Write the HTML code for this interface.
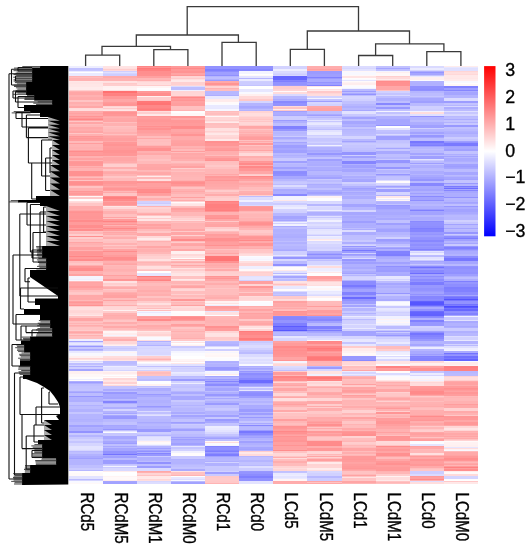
<!DOCTYPE html>
<html><head><meta charset="utf-8"><title>heatmap</title>
<style>
html,body{margin:0;padding:0;background:#fff;width:530px;height:550px;overflow:hidden}
svg{display:block}
.t{font-family:"Liberation Sans",Arial,sans-serif;font-size:17.6px;fill:#000;stroke:#000;stroke-width:0.35px}
.c{font-size:17.8px}
</style></head><body>
<svg width="530" height="550" viewBox="0 0 530 550"><g shape-rendering="crispEdges"><path fill="#eeeeff" d="M68.50 66h34.17v2h-34.17zM273.25 274h34.17v1h-34.17zM307.38 236h34.17v1h-34.17zM375.62 301h34.17v1h-34.17zM375.62 352h34.17v1h-34.17zM443.88 348h34.17v2h-34.17z"/><path fill="#c2c2ff" d="M68.50 68h34.17v2h-34.17zM68.50 402h34.17v3h-34.17zM102.62 386h34.17v3h-34.17zM102.62 404h34.17v3h-34.17zM102.62 422h34.17v3h-34.17zM102.62 464h34.17v1h-34.17zM170.88 386h34.17v2h-34.17zM170.88 414h34.17v1h-34.17zM170.88 419h34.17v3h-34.17zM170.88 431h34.17v3h-34.17zM239.12 388h34.17v2h-34.17zM239.12 462h34.17v3h-34.17zM341.50 304h34.17v1h-34.17zM375.62 112h34.17v2h-34.17zM375.62 130h34.17v2h-34.17zM375.62 141h34.17v2h-34.17zM375.62 147h34.17v1h-34.17zM375.62 177h34.17v3h-34.17zM409.75 164h34.17v1h-34.17z"/><path fill="#c5c5ff" d="M68.50 70h34.17v1h-34.17zM68.50 389h34.17v2h-34.17zM136.75 343h34.17v2h-34.17zM170.88 425h34.17v3h-34.17zM170.88 447h34.17v2h-34.17zM205.00 434h34.17v2h-34.17zM307.38 143h34.17v2h-34.17zM307.38 182h34.17v1h-34.17zM341.50 145h34.17v3h-34.17zM341.50 342h34.17v2h-34.17zM375.62 330h34.17v1h-34.17zM443.88 222h34.17v2h-34.17z"/><path fill="#eaeaff" d="M68.50 71h34.17v1h-34.17zM68.50 73h34.17v3h-34.17zM136.75 369h34.17v1h-34.17zM239.12 79h34.17v2h-34.17zM273.25 478h34.17v1h-34.17zM375.62 199h34.17v1h-34.17zM375.62 342h34.17v2h-34.17z"/><path fill="#fefeff" d="M68.50 72h34.17v1h-34.17zM102.62 375h34.17v1h-34.17zM102.62 475h34.17v1h-34.17zM136.75 88h34.17v1h-34.17zM136.75 381h34.17v3h-34.17zM170.88 362h34.17v1h-34.17zM239.12 301h34.17v1h-34.17zM375.62 126h34.17v2h-34.17zM375.62 355h34.17v1h-34.17z"/><path fill="#ffb1b1" d="M68.50 76h34.17v1h-34.17zM68.50 78h34.17v3h-34.17zM68.50 95h34.17v2h-34.17zM68.50 147h34.17v2h-34.17zM68.50 166h34.17v1h-34.17zM68.50 243h34.17v2h-34.17zM68.50 273h34.17v1h-34.17zM102.62 123h34.17v3h-34.17zM102.62 156h34.17v1h-34.17zM102.62 243h34.17v2h-34.17zM136.75 241h34.17v1h-34.17zM136.75 359h34.17v1h-34.17zM170.88 189h34.17v2h-34.17zM239.12 146h34.17v2h-34.17zM239.12 247h34.17v1h-34.17zM375.62 429h34.17v3h-34.17zM443.88 401h34.17v3h-34.17z"/><path fill="#ffbcbc" d="M68.50 77h34.17v1h-34.17zM68.50 177h34.17v1h-34.17zM68.50 239h34.17v1h-34.17zM68.50 281h34.17v1h-34.17zM102.62 163h34.17v1h-34.17zM102.62 324h34.17v2h-34.17zM102.62 328h34.17v2h-34.17zM136.75 136h34.17v2h-34.17zM136.75 283h34.17v3h-34.17zM136.75 308h34.17v1h-34.17zM136.75 323h34.17v2h-34.17zM136.75 372h34.17v2h-34.17zM170.88 241h34.17v1h-34.17zM170.88 303h34.17v1h-34.17zM170.88 329h34.17v2h-34.17zM170.88 332h34.17v2h-34.17zM205.00 111h34.17v1h-34.17zM205.00 155h34.17v1h-34.17zM205.00 193h34.17v1h-34.17zM205.00 254h34.17v1h-34.17zM205.00 289h34.17v1h-34.17zM239.12 187h34.17v3h-34.17zM307.38 461h34.17v1h-34.17zM341.50 425h34.17v3h-34.17zM375.62 346h34.17v3h-34.17zM375.62 400h34.17v1h-34.17zM375.62 457h34.17v2h-34.17zM409.75 397h34.17v1h-34.17z"/><path fill="#ffe7e7" d="M68.50 81h34.17v1h-34.17zM68.50 315h34.17v1h-34.17zM136.75 331h34.17v1h-34.17zM170.88 275h34.17v1h-34.17zM170.88 363h34.17v1h-34.17zM307.38 86h34.17v1h-34.17zM307.38 239h34.17v1h-34.17zM375.62 380h34.17v1h-34.17z"/><path fill="#ffe3e3" d="M68.50 82h34.17v2h-34.17zM102.62 66h34.17v2h-34.17zM170.88 256h34.17v2h-34.17zM170.88 471h34.17v1h-34.17zM205.00 303h34.17v1h-34.17zM205.00 333h34.17v3h-34.17zM307.38 89h34.17v1h-34.17zM307.38 282h34.17v3h-34.17zM307.38 371h34.17v3h-34.17zM341.50 365h34.17v1h-34.17zM409.75 365h34.17v1h-34.17z"/><path fill="#ffe6e6" d="M68.50 84h34.17v3h-34.17zM102.62 110h34.17v1h-34.17zM102.62 206h34.17v1h-34.17zM102.62 344h34.17v1h-34.17zM136.75 219h34.17v2h-34.17zM136.75 309h34.17v1h-34.17zM443.88 78h34.17v1h-34.17z"/><path fill="#ffebeb" d="M68.50 87h34.17v3h-34.17zM136.75 176h34.17v1h-34.17zM170.88 203h34.17v1h-34.17zM205.00 99h34.17v3h-34.17zM341.50 348h34.17v3h-34.17zM375.62 79h34.17v1h-34.17zM443.88 79h34.17v2h-34.17z"/><path fill="#ffd0d0" d="M68.50 90h34.17v1h-34.17zM102.62 330h34.17v1h-34.17zM136.75 307h34.17v1h-34.17zM170.88 82h34.17v3h-34.17zM170.88 201h34.17v1h-34.17zM239.12 175h34.17v1h-34.17zM341.50 361h34.17v1h-34.17zM443.88 380h34.17v1h-34.17z"/><path fill="#ffb0b0" d="M68.50 91h34.17v1h-34.17zM68.50 134h34.17v2h-34.17zM68.50 188h34.17v3h-34.17zM68.50 265h34.17v1h-34.17zM68.50 271h34.17v2h-34.17zM68.50 335h34.17v1h-34.17zM102.62 132h34.17v2h-34.17zM102.62 211h34.17v3h-34.17zM102.62 261h34.17v2h-34.17zM102.62 269h34.17v2h-34.17zM102.62 276h34.17v3h-34.17zM136.75 151h34.17v2h-34.17zM136.75 472h34.17v1h-34.17zM170.88 180h34.17v1h-34.17zM170.88 331h34.17v1h-34.17zM205.00 232h34.17v2h-34.17zM239.12 185h34.17v2h-34.17zM239.12 191h34.17v2h-34.17zM239.12 235h34.17v1h-34.17zM273.25 405h34.17v1h-34.17zM307.38 365h34.17v1h-34.17zM375.62 416h34.17v1h-34.17zM409.75 404h34.17v2h-34.17zM409.75 480h34.17v1h-34.17zM443.88 431h34.17v1h-34.17z"/><path fill="#ffa6a6" d="M68.50 92h34.17v3h-34.17zM68.50 122h34.17v2h-34.17zM68.50 131h34.17v1h-34.17zM68.50 283h34.17v3h-34.17zM68.50 332h34.17v1h-34.17zM102.62 99h34.17v3h-34.17zM102.62 158h34.17v3h-34.17zM102.62 293h34.17v2h-34.17zM136.75 214h34.17v1h-34.17zM136.75 246h34.17v2h-34.17zM170.88 129h34.17v3h-34.17zM170.88 265h34.17v1h-34.17zM205.00 219h34.17v2h-34.17zM205.00 253h34.17v1h-34.17zM239.12 126h34.17v2h-34.17zM239.12 316h34.17v3h-34.17zM239.12 323h34.17v2h-34.17zM307.38 106h34.17v2h-34.17zM307.38 393h34.17v2h-34.17zM307.38 433h34.17v1h-34.17zM341.50 387h34.17v2h-34.17zM341.50 450h34.17v1h-34.17zM375.62 389h34.17v3h-34.17zM375.62 407h34.17v1h-34.17zM375.62 456h34.17v1h-34.17zM375.62 459h34.17v2h-34.17zM409.75 395h34.17v1h-34.17zM409.75 424h34.17v1h-34.17zM409.75 457h34.17v2h-34.17zM443.88 425h34.17v1h-34.17z"/><path fill="#ffaaaa" d="M68.50 97h34.17v3h-34.17zM68.50 111h34.17v2h-34.17zM68.50 288h34.17v2h-34.17zM102.62 76h34.17v2h-34.17zM136.75 325h34.17v2h-34.17zM170.88 262h34.17v1h-34.17zM170.88 326h34.17v1h-34.17zM205.00 265h34.17v1h-34.17zM205.00 269h34.17v2h-34.17zM239.12 141h34.17v1h-34.17zM239.12 226h34.17v2h-34.17zM239.12 241h34.17v2h-34.17zM273.25 402h34.17v2h-34.17zM273.25 481h34.17v1h-34.17zM307.38 392h34.17v1h-34.17zM307.38 406h34.17v1h-34.17zM307.38 428h34.17v1h-34.17zM341.50 377h34.17v2h-34.17zM409.75 466h34.17v2h-34.17zM443.88 381h34.17v1h-34.17zM443.88 411h34.17v2h-34.17z"/><path fill="#ffc4c4" d="M68.50 100h34.17v2h-34.17zM68.50 180h34.17v1h-34.17zM68.50 294h34.17v1h-34.17zM68.50 327h34.17v3h-34.17zM102.62 193h34.17v3h-34.17zM102.62 218h34.17v1h-34.17zM136.75 212h34.17v1h-34.17zM136.75 215h34.17v1h-34.17zM136.75 261h34.17v1h-34.17zM170.88 263h34.17v2h-34.17zM239.12 119h34.17v1h-34.17zM239.12 145h34.17v1h-34.17zM239.12 190h34.17v1h-34.17zM273.25 415h34.17v1h-34.17zM307.38 427h34.17v1h-34.17zM341.50 415h34.17v2h-34.17zM341.50 478h34.17v2h-34.17z"/><path fill="#ffaeae" d="M68.50 102h34.17v2h-34.17zM68.50 176h34.17v1h-34.17zM102.62 135h34.17v1h-34.17zM102.62 171h34.17v1h-34.17zM102.62 237h34.17v2h-34.17zM102.62 305h34.17v1h-34.17zM136.75 80h34.17v1h-34.17zM136.75 294h34.17v2h-34.17zM170.88 186h34.17v1h-34.17zM170.88 285h34.17v1h-34.17zM170.88 338h34.17v1h-34.17zM205.00 151h34.17v2h-34.17zM205.00 297h34.17v2h-34.17zM239.12 156h34.17v2h-34.17zM239.12 246h34.17v1h-34.17zM273.25 457h34.17v1h-34.17zM307.38 408h34.17v2h-34.17zM341.50 452h34.17v2h-34.17zM375.62 382h34.17v1h-34.17zM409.75 412h34.17v3h-34.17zM409.75 421h34.17v2h-34.17zM409.75 425h34.17v1h-34.17zM443.88 435h34.17v1h-34.17z"/><path fill="#ffb4b4" d="M68.50 104h34.17v2h-34.17zM68.50 144h34.17v3h-34.17zM68.50 149h34.17v1h-34.17zM68.50 333h34.17v1h-34.17zM136.75 262h34.17v1h-34.17zM136.75 286h34.17v4h-34.17zM170.88 163h34.17v1h-34.17zM170.88 226h34.17v3h-34.17zM205.00 252h34.17v1h-34.17zM205.00 318h34.17v2h-34.17zM205.00 483h34.17v1h-34.17zM239.12 311h34.17v2h-34.17zM273.25 396h34.17v1h-34.17zM341.50 400h34.17v2h-34.17zM341.50 419h34.17v1h-34.17zM443.88 432h34.17v1h-34.17z"/><path fill="#ffa7a7" d="M68.50 106h34.17v2h-34.17zM68.50 167h34.17v1h-34.17zM68.50 210h34.17v1h-34.17zM102.62 116h34.17v1h-34.17zM102.62 118h34.17v2h-34.17zM102.62 157h34.17v1h-34.17zM102.62 186h34.17v1h-34.17zM102.62 232h34.17v1h-34.17zM136.75 134h34.17v2h-34.17zM136.75 164h34.17v3h-34.17zM136.75 471h34.17v1h-34.17zM170.88 210h34.17v2h-34.17zM170.88 229h34.17v2h-34.17zM170.88 232h34.17v3h-34.17zM170.88 249h34.17v2h-34.17zM205.00 174h34.17v1h-34.17zM205.00 222h34.17v1h-34.17zM205.00 246h34.17v2h-34.17zM205.00 279h34.17v2h-34.17zM205.00 309h34.17v1h-34.17zM239.12 171h34.17v3h-34.17zM239.12 183h34.17v2h-34.17zM375.62 87h34.17v3h-34.17zM375.62 398h34.17v2h-34.17zM375.62 426h34.17v3h-34.17zM409.75 432h34.17v1h-34.17zM409.75 435h34.17v2h-34.17zM443.88 420h34.17v2h-34.17z"/><path fill="#ffdada" d="M68.50 108h34.17v1h-34.17zM136.75 332h34.17v2h-34.17zM239.12 153h34.17v3h-34.17zM239.12 300h34.17v1h-34.17zM239.12 454h34.17v2h-34.17zM375.62 77h34.17v2h-34.17zM375.62 441h34.17v2h-34.17zM443.88 474h34.17v2h-34.17z"/><path fill="#ffdede" d="M68.50 109h34.17v2h-34.17zM68.50 201h34.17v1h-34.17zM136.75 111h34.17v1h-34.17zM136.75 340h34.17v1h-34.17zM170.88 220h34.17v1h-34.17zM239.12 113h34.17v3h-34.17zM273.25 299h34.17v1h-34.17zM307.38 285h34.17v1h-34.17zM409.75 482h34.17v2h-34.17zM443.88 72h34.17v2h-34.17zM443.88 377h34.17v3h-34.17z"/><path fill="#ffa2a2" d="M68.50 113h34.17v1h-34.17zM68.50 178h34.17v2h-34.17zM68.50 247h34.17v3h-34.17zM68.50 274h34.17v2h-34.17zM68.50 303h34.17v2h-34.17zM136.75 195h34.17v1h-34.17zM170.88 141h34.17v2h-34.17zM239.12 179h34.17v2h-34.17zM273.25 446h34.17v3h-34.17zM307.38 352h34.17v1h-34.17zM307.38 423h34.17v1h-34.17zM341.50 475h34.17v1h-34.17zM409.75 415h34.17v1h-34.17zM443.88 382h34.17v3h-34.17zM443.88 391h34.17v1h-34.17z"/><path fill="#ffa9a9" d="M68.50 114h34.17v2h-34.17zM68.50 127h34.17v2h-34.17zM68.50 297h34.17v1h-34.17zM68.50 299h34.17v1h-34.17zM102.62 141h34.17v1h-34.17zM102.62 172h34.17v2h-34.17zM102.62 192h34.17v1h-34.17zM102.62 263h34.17v1h-34.17zM102.62 326h34.17v2h-34.17zM136.75 172h34.17v1h-34.17zM136.75 233h34.17v3h-34.17zM170.88 96h34.17v1h-34.17zM170.88 136h34.17v1h-34.17zM170.88 243h34.17v1h-34.17zM205.00 186h34.17v1h-34.17zM205.00 223h34.17v1h-34.17zM273.25 304h34.17v3h-34.17zM273.25 308h34.17v1h-34.17zM273.25 410h34.17v2h-34.17zM307.38 70h34.17v1h-34.17zM307.38 387h34.17v1h-34.17zM307.38 401h34.17v3h-34.17zM307.38 417h34.17v2h-34.17zM341.50 389h34.17v1h-34.17zM341.50 396h34.17v2h-34.17zM341.50 470h34.17v1h-34.17zM409.75 438h34.17v1h-34.17zM443.88 405h34.17v3h-34.17zM443.88 438h34.17v1h-34.17zM443.88 452h34.17v3h-34.17z"/><path fill="#ff9494" d="M68.50 116h34.17v1h-34.17zM102.62 104h34.17v1h-34.17zM102.62 144h34.17v2h-34.17zM170.88 100h34.17v1h-34.17zM170.88 134h34.17v2h-34.17zM205.00 83h34.17v2h-34.17zM205.00 211h34.17v1h-34.17zM273.25 360h34.17v1h-34.17zM273.25 427h34.17v1h-34.17zM273.25 445h34.17v1h-34.17zM375.62 436h34.17v1h-34.17zM409.75 389h34.17v2h-34.17zM443.88 389h34.17v1h-34.17z"/><path fill="#ffa1a1" d="M68.50 117h34.17v1h-34.17zM68.50 192h34.17v1h-34.17zM68.50 301h34.17v1h-34.17zM102.62 111h34.17v1h-34.17zM102.62 205h34.17v1h-34.17zM102.62 275h34.17v1h-34.17zM102.62 295h34.17v3h-34.17zM102.62 300h34.17v1h-34.17zM136.75 76h34.17v2h-34.17zM136.75 186h34.17v1h-34.17zM136.75 224h34.17v2h-34.17zM170.88 101h34.17v2h-34.17zM170.88 132h34.17v2h-34.17zM170.88 166h34.17v2h-34.17zM170.88 305h34.17v1h-34.17zM205.00 236h34.17v2h-34.17zM239.12 313h34.17v1h-34.17zM273.25 301h34.17v2h-34.17zM273.25 404h34.17v1h-34.17zM307.38 108h34.17v3h-34.17zM341.50 469h34.17v1h-34.17zM375.62 432h34.17v1h-34.17zM375.62 447h34.17v2h-34.17zM443.88 464h34.17v1h-34.17z"/><path fill="#ff9595" d="M68.50 118h34.17v1h-34.17zM68.50 155h34.17v1h-34.17zM102.62 188h34.17v2h-34.17zM102.62 202h34.17v3h-34.17zM102.62 224h34.17v1h-34.17zM136.75 67h34.17v1h-34.17zM170.88 116h34.17v2h-34.17zM205.00 180h34.17v1h-34.17zM205.00 276h34.17v1h-34.17zM205.00 278h34.17v1h-34.17zM239.12 177h34.17v2h-34.17zM239.12 237h34.17v2h-34.17zM273.25 314h34.17v1h-34.17zM273.25 440h34.17v2h-34.17zM375.62 412h34.17v2h-34.17zM409.75 459h34.17v2h-34.17zM443.88 460h34.17v1h-34.17z"/><path fill="#ff8585" d="M68.50 119h34.17v1h-34.17zM273.25 376h34.17v2h-34.17zM307.38 380h34.17v1h-34.17z"/><path fill="#ffa4a4" d="M68.50 120h34.17v1h-34.17zM102.62 217h34.17v1h-34.17zM102.62 252h34.17v3h-34.17zM136.75 227h34.17v2h-34.17zM170.88 73h34.17v2h-34.17zM170.88 140h34.17v1h-34.17zM170.88 286h34.17v2h-34.17zM205.00 224h34.17v3h-34.17zM239.12 150h34.17v1h-34.17zM273.25 357h34.17v3h-34.17zM273.25 385h34.17v1h-34.17zM273.25 435h34.17v1h-34.17zM273.25 449h34.17v1h-34.17zM341.50 462h34.17v1h-34.17zM443.88 436h34.17v1h-34.17zM443.88 455h34.17v1h-34.17z"/><path fill="#ffc6c6" d="M68.50 121h34.17v1h-34.17zM68.50 133h34.17v1h-34.17zM68.50 203h34.17v3h-34.17zM102.62 169h34.17v2h-34.17zM102.62 176h34.17v2h-34.17zM102.62 239h34.17v2h-34.17zM136.75 265h34.17v1h-34.17zM170.88 327h34.17v2h-34.17zM239.12 121h34.17v1h-34.17zM307.38 437h34.17v3h-34.17zM341.50 421h34.17v3h-34.17zM409.75 469h34.17v2h-34.17z"/><path fill="#ffbebe" d="M68.50 124h34.17v1h-34.17zM68.50 261h34.17v2h-34.17zM68.50 321h34.17v1h-34.17zM102.62 122h34.17v1h-34.17zM136.75 330h34.17v1h-34.17zM170.88 109h34.17v1h-34.17zM170.88 291h34.17v3h-34.17zM205.00 113h34.17v2h-34.17zM205.00 123h34.17v2h-34.17zM205.00 161h34.17v2h-34.17zM205.00 268h34.17v1h-34.17zM273.25 391h34.17v1h-34.17zM273.25 423h34.17v2h-34.17zM307.38 414h34.17v3h-34.17zM341.50 438h34.17v2h-34.17zM375.62 414h34.17v1h-34.17zM409.75 468h34.17v1h-34.17z"/><path fill="#ffb8b8" d="M68.50 125h34.17v2h-34.17zM68.50 233h34.17v1h-34.17zM68.50 300h34.17v1h-34.17zM102.62 191h34.17v1h-34.17zM102.62 231h34.17v1h-34.17zM136.75 170h34.17v1h-34.17zM170.88 169h34.17v2h-34.17zM170.88 179h34.17v1h-34.17zM170.88 334h34.17v2h-34.17zM205.00 189h34.17v1h-34.17zM307.38 386h34.17v1h-34.17zM307.38 454h34.17v1h-34.17zM341.50 393h34.17v1h-34.17zM341.50 445h34.17v1h-34.17zM341.50 474h34.17v1h-34.17zM375.62 405h34.17v1h-34.17zM443.88 462h34.17v1h-34.17z"/><path fill="#ffadad" d="M68.50 129h34.17v2h-34.17zM68.50 195h34.17v1h-34.17zM102.62 117h34.17v1h-34.17zM102.62 339h34.17v2h-34.17zM205.00 263h34.17v2h-34.17zM273.25 383h34.17v2h-34.17zM273.25 461h34.17v2h-34.17zM307.38 66h34.17v3h-34.17zM307.38 446h34.17v2h-34.17zM375.62 406h34.17v1h-34.17z"/><path fill="#ffa5a5" d="M68.50 132h34.17v1h-34.17zM68.50 242h34.17v1h-34.17zM68.50 318h34.17v3h-34.17zM102.62 120h34.17v2h-34.17zM102.62 264h34.17v1h-34.17zM136.75 167h34.17v3h-34.17zM170.88 237h34.17v2h-34.17zM170.88 244h34.17v2h-34.17zM205.00 181h34.17v3h-34.17zM273.25 388h34.17v3h-34.17zM307.38 313h34.17v2h-34.17zM307.38 426h34.17v1h-34.17zM307.38 456h34.17v1h-34.17zM307.38 481h34.17v1h-34.17zM341.50 370h34.17v1h-34.17zM341.50 448h34.17v2h-34.17zM341.50 481h34.17v2h-34.17zM375.62 451h34.17v2h-34.17zM409.75 423h34.17v1h-34.17z"/><path fill="#ff9797" d="M68.50 136h34.17v1h-34.17zM68.50 213h34.17v3h-34.17zM68.50 266h34.17v2h-34.17zM68.50 302h34.17v1h-34.17zM102.62 103h34.17v1h-34.17zM102.62 114h34.17v2h-34.17zM102.62 153h34.17v2h-34.17zM102.62 181h34.17v3h-34.17zM102.62 260h34.17v1h-34.17zM136.75 116h34.17v1h-34.17zM136.75 120h34.17v2h-34.17zM170.88 181h34.17v1h-34.17zM170.88 316h34.17v1h-34.17zM205.00 158h34.17v2h-34.17zM205.00 215h34.17v3h-34.17zM239.12 161h34.17v1h-34.17zM273.25 312h34.17v2h-34.17zM273.25 428h34.17v1h-34.17zM307.38 351h34.17v1h-34.17zM307.38 353h34.17v3h-34.17zM341.50 468h34.17v1h-34.17zM375.62 370h34.17v1h-34.17zM409.75 388h34.17v1h-34.17zM443.88 416h34.17v2h-34.17z"/><path fill="#ff9f9f" d="M68.50 137h34.17v1h-34.17zM102.62 138h34.17v3h-34.17zM170.88 208h34.17v2h-34.17zM205.00 178h34.17v2h-34.17zM375.62 424h34.17v2h-34.17zM375.62 465h34.17v2h-34.17zM409.75 366h34.17v2h-34.17zM409.75 477h34.17v2h-34.17z"/><path fill="#ff9898" d="M68.50 138h34.17v1h-34.17zM68.50 164h34.17v2h-34.17zM68.50 191h34.17v1h-34.17zM68.50 251h34.17v1h-34.17zM102.62 96h34.17v3h-34.17zM102.62 142h34.17v2h-34.17zM102.62 155h34.17v1h-34.17zM170.88 69h34.17v2h-34.17zM170.88 75h34.17v1h-34.17zM170.88 120h34.17v3h-34.17zM239.12 143h34.17v2h-34.17zM307.38 431h34.17v2h-34.17zM307.38 448h34.17v3h-34.17zM341.50 459h34.17v1h-34.17zM375.62 449h34.17v2h-34.17zM375.62 461h34.17v2h-34.17zM375.62 470h34.17v1h-34.17zM409.75 464h34.17v2h-34.17zM443.88 422h34.17v3h-34.17z"/><path fill="#ff9d9d" d="M68.50 139h34.17v2h-34.17zM68.50 143h34.17v1h-34.17zM68.50 185h34.17v1h-34.17zM102.62 184h34.17v2h-34.17zM102.62 226h34.17v2h-34.17zM136.75 117h34.17v2h-34.17zM136.75 146h34.17v2h-34.17zM136.75 193h34.17v2h-34.17zM205.00 234h34.17v2h-34.17zM239.12 137h34.17v3h-34.17zM273.25 434h34.17v1h-34.17zM307.38 306h34.17v1h-34.17zM307.38 310h34.17v3h-34.17zM307.38 434h34.17v2h-34.17zM341.50 390h34.17v2h-34.17zM341.50 464h34.17v2h-34.17zM375.62 418h34.17v3h-34.17zM409.75 417h34.17v2h-34.17zM443.88 394h34.17v2h-34.17zM443.88 404h34.17v1h-34.17zM443.88 468h34.17v1h-34.17z"/><path fill="#ffbaba" d="M68.50 141h34.17v2h-34.17zM102.62 178h34.17v3h-34.17zM102.62 236h34.17v1h-34.17zM102.62 265h34.17v1h-34.17zM102.62 319h34.17v1h-34.17zM136.75 156h34.17v3h-34.17zM136.75 177h34.17v2h-34.17zM136.75 229h34.17v2h-34.17zM170.88 149h34.17v2h-34.17zM170.88 295h34.17v2h-34.17zM170.88 304h34.17v1h-34.17zM239.12 213h34.17v1h-34.17zM239.12 325h34.17v1h-34.17zM273.25 309h34.17v1h-34.17zM273.25 401h34.17v1h-34.17zM307.38 307h34.17v3h-34.17zM307.38 436h34.17v1h-34.17zM341.50 408h34.17v2h-34.17zM375.62 404h34.17v1h-34.17zM375.62 417h34.17v1h-34.17zM409.75 407h34.17v1h-34.17zM409.75 449h34.17v1h-34.17zM443.88 396h34.17v1h-34.17z"/><path fill="#ffa3a3" d="M68.50 150h34.17v1h-34.17zM68.50 158h34.17v2h-34.17zM68.50 282h34.17v1h-34.17zM102.62 136h34.17v2h-34.17zM102.62 223h34.17v1h-34.17zM102.62 249h34.17v2h-34.17zM136.75 133h34.17v1h-34.17zM205.00 146h34.17v2h-34.17zM205.00 156h34.17v2h-34.17zM239.12 136h34.17v1h-34.17zM239.12 309h34.17v2h-34.17zM273.25 341h34.17v2h-34.17zM307.38 421h34.17v1h-34.17zM341.50 392h34.17v1h-34.17zM341.50 417h34.17v2h-34.17zM341.50 463h34.17v1h-34.17z"/><path fill="#ff8d8d" d="M68.50 151h34.17v1h-34.17zM68.50 229h34.17v2h-34.17zM68.50 268h34.17v3h-34.17zM102.62 196h34.17v1h-34.17zM102.62 251h34.17v1h-34.17zM102.62 257h34.17v3h-34.17zM170.88 128h34.17v1h-34.17zM273.25 350h34.17v1h-34.17z"/><path fill="#ff9a9a" d="M68.50 152h34.17v3h-34.17zM68.50 193h34.17v2h-34.17zM68.50 219h34.17v1h-34.17zM68.50 257h34.17v2h-34.17zM102.62 219h34.17v2h-34.17zM136.75 127h34.17v1h-34.17zM170.88 98h34.17v2h-34.17zM239.12 162h34.17v1h-34.17zM239.12 210h34.17v1h-34.17zM239.12 225h34.17v1h-34.17zM273.25 437h34.17v3h-34.17zM341.50 456h34.17v3h-34.17zM341.50 466h34.17v2h-34.17zM375.62 408h34.17v1h-34.17zM375.62 440h34.17v1h-34.17zM375.62 467h34.17v3h-34.17zM409.75 386h34.17v2h-34.17zM409.75 456h34.17v1h-34.17zM443.88 466h34.17v1h-34.17z"/><path fill="#ffb2b2" d="M68.50 156h34.17v2h-34.17zM68.50 250h34.17v1h-34.17zM102.62 78h34.17v3h-34.17zM102.62 313h34.17v2h-34.17zM136.75 281h34.17v2h-34.17zM170.88 146h34.17v2h-34.17zM170.88 192h34.17v2h-34.17zM205.00 88h34.17v1h-34.17zM205.00 212h34.17v3h-34.17zM205.00 320h34.17v3h-34.17zM239.12 182h34.17v1h-34.17zM239.12 218h34.17v3h-34.17zM239.12 290h34.17v2h-34.17zM375.62 397h34.17v1h-34.17zM375.62 409h34.17v2h-34.17zM375.62 433h34.17v2h-34.17zM375.62 471h34.17v1h-34.17zM409.75 402h34.17v2h-34.17z"/><path fill="#ffb3b3" d="M68.50 160h34.17v1h-34.17zM68.50 168h34.17v3h-34.17zM68.50 323h34.17v1h-34.17zM102.62 174h34.17v2h-34.17zM102.62 225h34.17v1h-34.17zM102.62 271h34.17v1h-34.17zM136.75 206h34.17v1h-34.17zM136.75 292h34.17v2h-34.17zM136.75 298h34.17v3h-34.17zM170.88 110h34.17v1h-34.17zM170.88 172h34.17v3h-34.17zM170.88 223h34.17v3h-34.17zM170.88 475h34.17v1h-34.17zM205.00 175h34.17v1h-34.17zM205.00 295h34.17v2h-34.17zM273.25 307h34.17v1h-34.17zM273.25 406h34.17v1h-34.17zM273.25 425h34.17v1h-34.17zM307.38 361h34.17v2h-34.17zM341.50 420h34.17v1h-34.17zM341.50 424h34.17v1h-34.17zM341.50 430h34.17v1h-34.17zM375.62 402h34.17v2h-34.17zM409.75 398h34.17v3h-34.17zM443.88 413h34.17v2h-34.17zM443.88 437h34.17v1h-34.17z"/><path fill="#ff9999" d="M68.50 161h34.17v1h-34.17zM68.50 255h34.17v1h-34.17zM102.62 148h34.17v2h-34.17zM136.75 91h34.17v2h-34.17zM136.75 119h34.17v1h-34.17zM136.75 181h34.17v1h-34.17zM170.88 66h34.17v2h-34.17zM205.00 176h34.17v2h-34.17zM205.00 241h34.17v1h-34.17zM239.12 236h34.17v1h-34.17zM307.38 422h34.17v1h-34.17zM341.50 431h34.17v1h-34.17zM409.75 476h34.17v1h-34.17zM443.88 418h34.17v2h-34.17zM443.88 456h34.17v2h-34.17z"/><path fill="#ff9696" d="M68.50 162h34.17v2h-34.17zM68.50 211h34.17v1h-34.17zM68.50 216h34.17v3h-34.17zM68.50 252h34.17v3h-34.17zM102.62 105h34.17v1h-34.17zM102.62 279h34.17v2h-34.17zM136.75 277h34.17v2h-34.17zM170.88 184h34.17v2h-34.17zM170.88 299h34.17v2h-34.17zM205.00 143h34.17v3h-34.17zM205.00 150h34.17v1h-34.17zM239.12 168h34.17v3h-34.17zM239.12 207h34.17v3h-34.17zM239.12 243h34.17v3h-34.17zM239.12 286h34.17v2h-34.17zM273.25 355h34.17v2h-34.17zM375.62 421h34.17v3h-34.17zM375.62 437h34.17v3h-34.17zM409.75 420h34.17v1h-34.17zM443.88 392h34.17v2h-34.17z"/><path fill="#ff9191" d="M68.50 171h34.17v5h-34.17zM136.75 128h34.17v2h-34.17zM205.00 218h34.17v1h-34.17zM205.00 245h34.17v1h-34.17zM205.00 326h34.17v2h-34.17zM375.62 84h34.17v2h-34.17zM375.62 463h34.17v2h-34.17zM409.75 394h34.17v1h-34.17z"/><path fill="#ff9292" d="M68.50 181h34.17v1h-34.17zM68.50 212h34.17v1h-34.17zM68.50 305h34.17v1h-34.17zM205.00 261h34.17v1h-34.17zM273.25 311h34.17v1h-34.17zM273.25 348h34.17v2h-34.17zM273.25 351h34.17v3h-34.17zM273.25 426h34.17v1h-34.17zM273.25 432h34.17v2h-34.17zM307.38 315h34.17v1h-34.17z"/><path fill="#ff8f8f" d="M68.50 182h34.17v3h-34.17zM68.50 236h34.17v1h-34.17zM170.88 182h34.17v2h-34.17zM239.12 335h34.17v3h-34.17zM307.38 424h34.17v2h-34.17zM341.50 434h34.17v2h-34.17zM443.88 388h34.17v1h-34.17z"/><path fill="#ffc3c3" d="M68.50 186h34.17v2h-34.17zM136.75 296h34.17v2h-34.17zM136.75 374h34.17v2h-34.17zM170.88 276h34.17v3h-34.17zM170.88 297h34.17v2h-34.17zM205.00 112h34.17v1h-34.17zM239.12 129h34.17v1h-34.17zM273.25 413h34.17v2h-34.17zM273.25 451h34.17v2h-34.17zM307.38 482h34.17v1h-34.17zM341.50 368h34.17v2h-34.17zM341.50 473h34.17v1h-34.17zM341.50 476h34.17v1h-34.17zM375.62 90h34.17v1h-34.17zM375.62 396h34.17v1h-34.17zM375.62 445h34.17v1h-34.17zM375.62 481h34.17v1h-34.17z"/><path fill="#fff8f8" d="M68.50 196h34.17v1h-34.17zM68.50 483h34.17v1h-34.17zM170.88 113h34.17v3h-34.17zM170.88 344h34.17v1h-34.17zM205.00 351h34.17v1h-34.17zM205.00 353h34.17v2h-34.17zM341.50 75h34.17v1h-34.17zM375.62 73h34.17v3h-34.17z"/><path fill="#ffc9c9" d="M68.50 197h34.17v2h-34.17zM68.50 293h34.17v1h-34.17zM102.62 83h34.17v1h-34.17zM102.62 108h34.17v1h-34.17zM102.62 289h34.17v1h-34.17zM136.75 254h34.17v2h-34.17zM136.75 371h34.17v1h-34.17zM205.00 196h34.17v2h-34.17zM205.00 221h34.17v1h-34.17zM205.00 337h34.17v3h-34.17zM239.12 125h34.17v1h-34.17zM273.25 296h34.17v3h-34.17zM307.38 91h34.17v2h-34.17zM409.75 396h34.17v1h-34.17zM409.75 426h34.17v1h-34.17z"/><path fill="#fffdfd" d="M68.50 199h34.17v2h-34.17zM68.50 377h34.17v2h-34.17zM68.50 380h34.17v1h-34.17zM136.75 362h34.17v1h-34.17zM170.88 476h34.17v1h-34.17zM205.00 357h34.17v1h-34.17zM307.38 273h34.17v3h-34.17zM307.38 298h34.17v2h-34.17zM443.88 83h34.17v1h-34.17z"/><path fill="#ffd7d7" d="M68.50 202h34.17v1h-34.17zM102.62 307h34.17v3h-34.17zM102.62 341h34.17v3h-34.17zM102.62 378h34.17v2h-34.17zM170.88 95h34.17v1h-34.17zM170.88 289h34.17v2h-34.17zM205.00 117h34.17v3h-34.17zM273.25 285h34.17v1h-34.17zM273.25 364h34.17v2h-34.17zM273.25 393h34.17v3h-34.17z"/><path fill="#ffabab" d="M68.50 206h34.17v3h-34.17zM102.62 161h34.17v2h-34.17zM102.62 234h34.17v1h-34.17zM102.62 315h34.17v1h-34.17zM136.75 226h34.17v1h-34.17zM136.75 290h34.17v2h-34.17zM170.88 137h34.17v3h-34.17zM170.88 148h34.17v1h-34.17zM170.88 155h34.17v2h-34.17zM170.88 200h34.17v1h-34.17zM205.00 194h34.17v2h-34.17zM239.12 128h34.17v1h-34.17zM239.12 321h34.17v2h-34.17zM273.25 303h34.17v1h-34.17zM409.75 406h34.17v1h-34.17z"/><path fill="#ffafaf" d="M68.50 209h34.17v1h-34.17zM68.50 331h34.17v1h-34.17zM102.62 167h34.17v2h-34.17zM102.62 233h34.17v1h-34.17zM102.62 292h34.17v1h-34.17zM102.62 316h34.17v3h-34.17zM136.75 198h34.17v2h-34.17zM136.75 213h34.17v1h-34.17zM136.75 249h34.17v3h-34.17zM136.75 327h34.17v2h-34.17zM170.88 159h34.17v2h-34.17zM205.00 153h34.17v2h-34.17zM205.00 266h34.17v2h-34.17zM239.12 132h34.17v1h-34.17zM307.38 410h34.17v1h-34.17zM409.75 410h34.17v2h-34.17z"/><path fill="#ff8c8c" d="M68.50 220h34.17v2h-34.17zM68.50 259h34.17v2h-34.17zM136.75 189h34.17v3h-34.17zM136.75 279h34.17v1h-34.17zM239.12 340h34.17v1h-34.17zM273.25 450h34.17v1h-34.17zM307.38 376h34.17v1h-34.17zM375.62 446h34.17v1h-34.17z"/><path fill="#ff9b9b" d="M68.50 222h34.17v3h-34.17zM102.62 102h34.17v1h-34.17zM102.62 146h34.17v2h-34.17zM102.62 222h34.17v1h-34.17zM136.75 122h34.17v3h-34.17zM136.75 317h34.17v1h-34.17zM170.88 123h34.17v3h-34.17zM170.88 320h34.17v1h-34.17zM205.00 148h34.17v2h-34.17zM239.12 206h34.17v1h-34.17zM273.25 343h34.17v3h-34.17zM409.75 419h34.17v1h-34.17zM443.88 386h34.17v2h-34.17z"/><path fill="#ff8e8e" d="M68.50 225h34.17v3h-34.17zM136.75 71h34.17v3h-34.17zM136.75 93h34.17v3h-34.17zM273.25 378h34.17v3h-34.17zM443.88 458h34.17v2h-34.17zM443.88 469h34.17v2h-34.17z"/><path fill="#ff9e9e" d="M68.50 228h34.17v1h-34.17zM68.50 286h34.17v2h-34.17zM102.62 187h34.17v1h-34.17zM136.75 125h34.17v1h-34.17zM136.75 130h34.17v3h-34.17zM170.88 103h34.17v3h-34.17zM170.88 151h34.17v1h-34.17zM170.88 324h34.17v2h-34.17zM205.00 242h34.17v3h-34.17zM273.25 419h34.17v2h-34.17zM273.25 429h34.17v2h-34.17zM307.38 276h34.17v3h-34.17zM307.38 459h34.17v2h-34.17zM341.50 395h34.17v1h-34.17zM375.62 368h34.17v2h-34.17zM409.75 439h34.17v2h-34.17zM409.75 461h34.17v3h-34.17z"/><path fill="#ffc1c1" d="M68.50 231h34.17v1h-34.17zM68.50 322h34.17v1h-34.17zM170.88 161h34.17v2h-34.17zM170.88 284h34.17v1h-34.17zM205.00 125h34.17v3h-34.17zM239.12 140h34.17v1h-34.17zM273.25 284h34.17v1h-34.17zM375.62 80h34.17v1h-34.17zM443.88 439h34.17v1h-34.17z"/><path fill="#ffb9b9" d="M68.50 232h34.17v1h-34.17zM102.62 129h34.17v3h-34.17zM102.62 272h34.17v3h-34.17zM102.62 286h34.17v1h-34.17zM136.75 161h34.17v3h-34.17zM170.88 207h34.17v1h-34.17zM170.88 221h34.17v1h-34.17zM170.88 246h34.17v3h-34.17zM205.00 192h34.17v1h-34.17zM205.00 255h34.17v1h-34.17zM205.00 281h34.17v2h-34.17zM239.12 133h34.17v1h-34.17zM239.12 217h34.17v1h-34.17zM307.38 304h34.17v2h-34.17zM307.38 440h34.17v1h-34.17zM341.50 405h34.17v1h-34.17zM341.50 447h34.17v1h-34.17zM443.88 398h34.17v3h-34.17z"/><path fill="#ffcdcd" d="M68.50 234h34.17v2h-34.17zM68.50 237h34.17v2h-34.17zM68.50 306h34.17v1h-34.17zM102.62 69h34.17v1h-34.17zM136.75 85h34.17v1h-34.17zM136.75 97h34.17v3h-34.17zM170.88 269h34.17v2h-34.17zM170.88 288h34.17v1h-34.17zM239.12 451h34.17v1h-34.17zM341.50 442h34.17v2h-34.17zM375.62 381h34.17v1h-34.17zM375.62 474h34.17v2h-34.17z"/><path fill="#ffc2c2" d="M68.50 240h34.17v2h-34.17zM68.50 316h34.17v2h-34.17zM102.62 126h34.17v1h-34.17zM102.62 241h34.17v2h-34.17zM136.75 159h34.17v2h-34.17zM136.75 196h34.17v2h-34.17zM136.75 358h34.17v1h-34.17zM136.75 475h34.17v1h-34.17zM170.88 187h34.17v2h-34.17zM170.88 472h34.17v3h-34.17zM205.00 249h34.17v1h-34.17zM239.12 233h34.17v2h-34.17zM307.38 390h34.17v2h-34.17zM341.50 471h34.17v2h-34.17zM409.75 437h34.17v1h-34.17z"/><path fill="#ffb6b6" d="M68.50 245h34.17v2h-34.17zM102.62 266h34.17v3h-34.17zM136.75 145h34.17v1h-34.17zM136.75 171h34.17v1h-34.17zM136.75 221h34.17v3h-34.17zM136.75 248h34.17v1h-34.17zM136.75 321h34.17v2h-34.17zM170.88 261h34.17v1h-34.17zM170.88 302h34.17v1h-34.17zM205.00 169h34.17v5h-34.17zM205.00 316h34.17v2h-34.17zM239.12 181h34.17v1h-34.17zM239.12 214h34.17v3h-34.17zM239.12 307h34.17v2h-34.17zM273.25 375h34.17v1h-34.17zM273.25 421h34.17v2h-34.17zM307.38 363h34.17v2h-34.17zM341.50 441h34.17v1h-34.17zM341.50 483h34.17v1h-34.17zM375.62 472h34.17v2h-34.17zM375.62 482h34.17v1h-34.17z"/><path fill="#ff8686" d="M68.50 256h34.17v1h-34.17zM136.75 66h34.17v1h-34.17zM136.75 110h34.17v1h-34.17z"/><path fill="#ffc7c7" d="M68.50 263h34.17v2h-34.17zM68.50 292h34.17v1h-34.17zM102.62 245h34.17v1h-34.17zM136.75 231h34.17v2h-34.17zM170.88 216h34.17v2h-34.17zM170.88 301h34.17v1h-34.17zM170.88 339h34.17v2h-34.17zM239.12 251h34.17v2h-34.17zM239.12 319h34.17v2h-34.17zM273.25 408h34.17v2h-34.17zM307.38 455h34.17v1h-34.17zM341.50 394h34.17v1h-34.17zM341.50 480h34.17v1h-34.17zM375.62 393h34.17v3h-34.17zM443.88 415h34.17v1h-34.17z"/><path fill="#f5f5ff" d="M68.50 276h34.17v3h-34.17zM170.88 351h34.17v2h-34.17zM205.00 347h34.17v2h-34.17zM273.25 361h34.17v2h-34.17zM443.88 350h34.17v1h-34.17z"/><path fill="#f0f0ff" d="M68.50 279h34.17v1h-34.17zM170.88 90h34.17v1h-34.17zM239.12 200h34.17v2h-34.17zM307.38 145h34.17v1h-34.17zM307.38 374h34.17v2h-34.17z"/><path fill="#f8f8ff" d="M68.50 280h34.17v1h-34.17zM68.50 353h34.17v3h-34.17zM170.88 480h34.17v1h-34.17zM239.12 257h34.17v2h-34.17zM341.50 72h34.17v3h-34.17zM443.88 81h34.17v2h-34.17z"/><path fill="#ffbdbd" d="M68.50 290h34.17v2h-34.17zM102.62 127h34.17v2h-34.17zM102.62 337h34.17v2h-34.17zM136.75 141h34.17v1h-34.17zM136.75 200h34.17v1h-34.17zM136.75 243h34.17v3h-34.17zM136.75 310h34.17v1h-34.17zM170.88 152h34.17v1h-34.17zM170.88 194h34.17v3h-34.17zM170.88 259h34.17v1h-34.17zM205.00 89h34.17v2h-34.17zM205.00 231h34.17v1h-34.17zM205.00 290h34.17v5h-34.17zM273.25 386h34.17v2h-34.17zM273.25 460h34.17v1h-34.17zM341.50 366h34.17v2h-34.17zM341.50 381h34.17v3h-34.17zM341.50 451h34.17v1h-34.17zM341.50 454h34.17v1h-34.17zM409.75 401h34.17v1h-34.17z"/><path fill="#ffa8a8" d="M68.50 295h34.17v2h-34.17zM68.50 298h34.17v1h-34.17zM136.75 138h34.17v1h-34.17zM136.75 153h34.17v2h-34.17zM136.75 173h34.17v2h-34.17zM170.88 118h34.17v2h-34.17zM170.88 153h34.17v2h-34.17zM170.88 157h34.17v2h-34.17zM170.88 191h34.17v1h-34.17zM205.00 81h34.17v2h-34.17zM205.00 184h34.17v2h-34.17zM205.00 248h34.17v1h-34.17zM205.00 310h34.17v1h-34.17zM239.12 314h34.17v2h-34.17zM273.25 397h34.17v1h-34.17zM307.38 483h34.17v1h-34.17zM341.50 428h34.17v2h-34.17zM375.62 86h34.17v1h-34.17zM375.62 385h34.17v1h-34.17zM409.75 447h34.17v2h-34.17zM443.88 433h34.17v2h-34.17zM443.88 463h34.17v1h-34.17z"/><path fill="#ffe0e0" d="M68.50 307h34.17v3h-34.17zM136.75 303h34.17v2h-34.17zM170.88 280h34.17v1h-34.17zM205.00 121h34.17v1h-34.17zM205.00 128h34.17v3h-34.17zM239.12 261h34.17v2h-34.17z"/><path fill="#ffd8d8" d="M68.50 310h34.17v1h-34.17zM102.62 70h34.17v1h-34.17zM102.62 207h34.17v2h-34.17zM170.88 85h34.17v1h-34.17zM205.00 135h34.17v2h-34.17zM205.00 229h34.17v2h-34.17zM239.12 96h34.17v3h-34.17zM273.25 453h34.17v3h-34.17zM341.50 362h34.17v3h-34.17zM375.62 443h34.17v2h-34.17zM443.88 74h34.17v1h-34.17z"/><path fill="#ffd6d6" d="M68.50 311h34.17v2h-34.17zM102.62 285h34.17v1h-34.17zM136.75 240h34.17v1h-34.17zM136.75 479h34.17v1h-34.17zM170.88 93h34.17v2h-34.17zM170.88 308h34.17v3h-34.17zM239.12 122h34.17v3h-34.17zM239.12 299h34.17v1h-34.17zM239.12 329h34.17v2h-34.17zM273.25 283h34.17v1h-34.17zM307.38 93h34.17v1h-34.17zM307.38 398h34.17v3h-34.17zM307.38 452h34.17v2h-34.17zM409.75 382h34.17v1h-34.17zM443.88 426h34.17v2h-34.17zM443.88 430h34.17v1h-34.17z"/><path fill="#ffdddd" d="M68.50 313h34.17v2h-34.17zM102.62 107h34.17v1h-34.17zM102.62 356h34.17v2h-34.17zM136.75 82h34.17v2h-34.17zM136.75 480h34.17v1h-34.17zM205.00 442h34.17v1h-34.17zM239.12 255h34.17v1h-34.17zM273.25 468h34.17v1h-34.17zM307.38 266h34.17v2h-34.17zM307.38 384h34.17v2h-34.17zM307.38 470h34.17v1h-34.17zM375.62 477h34.17v3h-34.17zM409.75 112h34.17v2h-34.17zM409.75 383h34.17v3h-34.17z"/><path fill="#ffc0c0" d="M68.50 324h34.17v1h-34.17zM102.62 134h34.17v1h-34.17zM102.62 215h34.17v2h-34.17zM102.62 235h34.17v1h-34.17zM102.62 248h34.17v1h-34.17zM102.62 301h34.17v2h-34.17zM136.75 142h34.17v3h-34.17zM136.75 270h34.17v1h-34.17zM170.88 106h34.17v3h-34.17zM170.88 171h34.17v1h-34.17zM205.00 163h34.17v2h-34.17zM205.00 167h34.17v2h-34.17zM273.25 381h34.17v1h-34.17zM307.38 429h34.17v2h-34.17zM375.62 435h34.17v1h-34.17zM375.62 483h34.17v1h-34.17z"/><path fill="#ffacac" d="M68.50 325h34.17v1h-34.17zM102.62 287h34.17v2h-34.17zM102.62 322h34.17v2h-34.17zM170.88 164h34.17v2h-34.17zM170.88 236h34.17v1h-34.17zM205.00 85h34.17v1h-34.17zM205.00 187h34.17v2h-34.17zM205.00 283h34.17v2h-34.17zM239.12 134h34.17v2h-34.17zM239.12 165h34.17v1h-34.17zM239.12 193h34.17v2h-34.17zM239.12 248h34.17v1h-34.17zM239.12 288h34.17v2h-34.17zM239.12 293h34.17v3h-34.17zM239.12 306h34.17v1h-34.17zM273.25 482h34.17v2h-34.17zM307.38 279h34.17v2h-34.17zM307.38 419h34.17v2h-34.17zM341.50 406h34.17v2h-34.17zM443.88 385h34.17v1h-34.17zM443.88 461h34.17v1h-34.17z"/><path fill="#ffb5b5" d="M68.50 326h34.17v1h-34.17zM102.62 246h34.17v2h-34.17zM170.88 175h34.17v2h-34.17zM170.88 281h34.17v3h-34.17zM205.00 250h34.17v2h-34.17zM205.00 323h34.17v3h-34.17zM239.12 148h34.17v2h-34.17zM239.12 211h34.17v1h-34.17zM239.12 228h34.17v2h-34.17zM307.38 395h34.17v3h-34.17zM341.50 376h34.17v1h-34.17zM341.50 402h34.17v3h-34.17zM341.50 455h34.17v1h-34.17zM375.62 415h34.17v1h-34.17zM409.75 455h34.17v1h-34.17zM443.88 397h34.17v1h-34.17zM443.88 465h34.17v1h-34.17z"/><path fill="#ffcccc" d="M68.50 330h34.17v1h-34.17zM102.62 311h34.17v2h-34.17zM136.75 209h34.17v3h-34.17zM136.75 218h34.17v1h-34.17zM136.75 301h34.17v2h-34.17zM307.38 404h34.17v2h-34.17zM307.38 407h34.17v1h-34.17zM341.50 346h34.17v2h-34.17zM375.62 349h34.17v2h-34.17z"/><path fill="#ffc8c8" d="M68.50 334h34.17v1h-34.17zM136.75 100h34.17v1h-34.17zM136.75 305h34.17v2h-34.17zM205.00 165h34.17v2h-34.17zM205.00 476h34.17v2h-34.17zM205.00 481h34.17v2h-34.17zM239.12 99h34.17v2h-34.17zM239.12 292h34.17v1h-34.17zM273.25 110h34.17v1h-34.17zM307.38 411h34.17v3h-34.17zM341.50 444h34.17v1h-34.17zM409.75 429h34.17v1h-34.17zM443.88 481h34.17v1h-34.17z"/><path fill="#ffbfbf" d="M68.50 336h34.17v3h-34.17zM102.62 209h34.17v2h-34.17zM102.62 214h34.17v1h-34.17zM102.62 290h34.17v2h-34.17zM136.75 139h34.17v2h-34.17zM170.88 198h34.17v2h-34.17zM170.88 206h34.17v1h-34.17zM170.88 222h34.17v1h-34.17zM170.88 266h34.17v2h-34.17zM205.00 299h34.17v2h-34.17zM239.12 212h34.17v1h-34.17zM273.25 310h34.17v1h-34.17zM273.25 416h34.17v3h-34.17zM273.25 459h34.17v1h-34.17zM307.38 388h34.17v2h-34.17zM341.50 379h34.17v2h-34.17zM341.50 446h34.17v1h-34.17zM409.75 408h34.17v2h-34.17z"/><path fill="#efefff" d="M68.50 339h34.17v2h-34.17zM239.12 266h34.17v3h-34.17zM273.25 222h34.17v1h-34.17zM375.62 305h34.17v1h-34.17zM375.62 353h34.17v2h-34.17z"/><path fill="#a4a4ff" d="M68.50 341h34.17v1h-34.17zM68.50 369h34.17v2h-34.17zM170.88 415h34.17v2h-34.17zM205.00 376h34.17v1h-34.17zM239.12 372h34.17v1h-34.17zM273.25 142h34.17v1h-34.17zM273.25 216h34.17v3h-34.17zM273.25 220h34.17v1h-34.17zM307.38 253h34.17v1h-34.17zM341.50 181h34.17v1h-34.17zM341.50 204h34.17v3h-34.17zM341.50 305h34.17v2h-34.17zM341.50 333h34.17v3h-34.17zM375.62 256h34.17v1h-34.17zM409.75 153h34.17v2h-34.17zM409.75 211h34.17v1h-34.17zM443.88 156h34.17v1h-34.17zM443.88 202h34.17v1h-34.17z"/><path fill="#d9d9ff" d="M68.50 342h34.17v1h-34.17zM136.75 349h34.17v3h-34.17zM136.75 414h34.17v1h-34.17zM136.75 436h34.17v1h-34.17zM136.75 445h34.17v1h-34.17zM273.25 71h34.17v1h-34.17zM273.25 94h34.17v2h-34.17zM273.25 367h34.17v1h-34.17zM341.50 317h34.17v2h-34.17zM375.62 134h34.17v1h-34.17zM375.62 356h34.17v1h-34.17z"/><path fill="#e8e8ff" d="M68.50 343h34.17v2h-34.17zM205.00 96h34.17v3h-34.17zM205.00 108h34.17v1h-34.17zM307.38 291h34.17v1h-34.17zM341.50 328h34.17v1h-34.17zM443.88 340h34.17v1h-34.17z"/><path fill="#c6c6ff" d="M68.50 345h34.17v1h-34.17zM68.50 347h34.17v2h-34.17zM68.50 412h34.17v2h-34.17zM102.62 365h34.17v1h-34.17zM102.62 433h34.17v3h-34.17zM170.88 384h34.17v2h-34.17zM239.12 421h34.17v2h-34.17zM273.25 187h34.17v2h-34.17zM307.38 138h34.17v3h-34.17zM341.50 314h34.17v2h-34.17zM375.62 185h34.17v1h-34.17zM375.62 294h34.17v2h-34.17zM409.75 96h34.17v1h-34.17zM409.75 264h34.17v1h-34.17zM409.75 371h34.17v2h-34.17z"/><path fill="#9898ff" d="M68.50 346h34.17v1h-34.17zM102.62 392h34.17v2h-34.17zM102.62 416h34.17v3h-34.17zM136.75 406h34.17v1h-34.17zM205.00 367h34.17v3h-34.17zM341.50 356h34.17v2h-34.17zM375.62 107h34.17v2h-34.17zM409.75 246h34.17v1h-34.17zM409.75 250h34.17v1h-34.17zM409.75 285h34.17v3h-34.17zM409.75 325h34.17v1h-34.17zM443.88 125h34.17v2h-34.17z"/><path fill="#aaaaff" d="M68.50 349h34.17v1h-34.17zM102.62 426h34.17v3h-34.17zM170.88 412h34.17v2h-34.17zM170.88 469h34.17v2h-34.17zM239.12 405h34.17v1h-34.17zM273.25 137h34.17v2h-34.17zM273.25 189h34.17v2h-34.17zM341.50 216h34.17v2h-34.17zM341.50 267h34.17v2h-34.17zM375.62 299h34.17v2h-34.17zM409.75 351h34.17v3h-34.17zM443.88 158h34.17v3h-34.17zM443.88 351h34.17v2h-34.17z"/><path fill="#b7b7ff" d="M68.50 350h34.17v1h-34.17zM68.50 470h34.17v1h-34.17zM136.75 410h34.17v1h-34.17zM136.75 419h34.17v3h-34.17zM170.88 391h34.17v1h-34.17zM170.88 408h34.17v3h-34.17zM205.00 92h34.17v2h-34.17zM205.00 414h34.17v1h-34.17zM205.00 459h34.17v2h-34.17zM239.12 367h34.17v1h-34.17zM239.12 415h34.17v2h-34.17zM273.25 96h34.17v3h-34.17zM273.25 156h34.17v2h-34.17zM273.25 164h34.17v3h-34.17zM273.25 179h34.17v2h-34.17zM273.25 214h34.17v2h-34.17zM307.38 173h34.17v2h-34.17zM307.38 204h34.17v2h-34.17zM341.50 104h34.17v2h-34.17zM341.50 172h34.17v3h-34.17zM341.50 195h34.17v1h-34.17zM341.50 207h34.17v3h-34.17zM341.50 269h34.17v2h-34.17zM375.62 157h34.17v2h-34.17zM375.62 172h34.17v1h-34.17zM375.62 288h34.17v2h-34.17zM409.75 147h34.17v2h-34.17zM409.75 215h34.17v2h-34.17zM443.88 157h34.17v1h-34.17zM443.88 217h34.17v3h-34.17zM443.88 335h34.17v1h-34.17zM443.88 371h34.17v2h-34.17z"/><path fill="#e9e9ff" d="M68.50 351h34.17v2h-34.17zM68.50 362h34.17v1h-34.17zM136.75 312h34.17v1h-34.17zM136.75 440h34.17v1h-34.17zM205.00 105h34.17v3h-34.17zM205.00 428h34.17v2h-34.17zM273.25 473h34.17v2h-34.17zM307.38 123h34.17v2h-34.17zM307.38 237h34.17v2h-34.17zM307.38 265h34.17v1h-34.17zM341.50 374h34.17v1h-34.17zM409.75 76h34.17v1h-34.17zM409.75 259h34.17v1h-34.17z"/><path fill="#fff0f0" d="M68.50 356h34.17v2h-34.17zM68.50 371h34.17v3h-34.17zM102.62 345h34.17v1h-34.17zM102.62 376h34.17v1h-34.17zM136.75 441h34.17v1h-34.17zM170.88 251h34.17v3h-34.17zM409.75 77h34.17v3h-34.17zM409.75 363h34.17v2h-34.17zM443.88 445h34.17v2h-34.17z"/><path fill="#ffd4d4" d="M68.50 358h34.17v1h-34.17zM102.62 306h34.17v1h-34.17zM136.75 81h34.17v1h-34.17zM136.75 473h34.17v2h-34.17zM170.88 218h34.17v1h-34.17zM205.00 137h34.17v2h-34.17zM205.00 331h34.17v2h-34.17zM239.12 111h34.17v2h-34.17zM239.12 253h34.17v1h-34.17zM239.12 284h34.17v2h-34.17zM273.25 89h34.17v2h-34.17zM273.25 412h34.17v1h-34.17z"/><path fill="#ffdfdf" d="M68.50 359h34.17v1h-34.17zM102.62 68h34.17v1h-34.17zM102.62 109h34.17v1h-34.17zM136.75 84h34.17v1h-34.17zM136.75 266h34.17v3h-34.17zM170.88 79h34.17v1h-34.17zM239.12 326h34.17v2h-34.17zM273.25 363h34.17v1h-34.17zM273.25 398h34.17v3h-34.17zM409.75 453h34.17v2h-34.17z"/><path fill="#fff6f6" d="M68.50 360h34.17v1h-34.17zM102.62 331h34.17v2h-34.17zM205.00 116h34.17v1h-34.17zM205.00 304h34.17v1h-34.17zM205.00 355h34.17v2h-34.17zM205.00 441h34.17v1h-34.17zM307.38 288h34.17v2h-34.17zM341.50 355h34.17v1h-34.17zM375.62 200h34.17v1h-34.17zM375.62 322h34.17v1h-34.17zM443.88 84h34.17v2h-34.17z"/><path fill="#dadaff" d="M68.50 361h34.17v1h-34.17zM136.75 468h34.17v3h-34.17zM239.12 354h34.17v3h-34.17zM273.25 72h34.17v1h-34.17zM273.25 201h34.17v2h-34.17zM307.38 202h34.17v2h-34.17zM307.38 241h34.17v1h-34.17zM307.38 295h34.17v1h-34.17zM341.50 258h34.17v1h-34.17zM409.75 66h34.17v2h-34.17zM409.75 474h34.17v2h-34.17z"/><path fill="#bfbfff" d="M68.50 363h34.17v2h-34.17zM68.50 384h34.17v2h-34.17zM68.50 452h34.17v2h-34.17zM68.50 465h34.17v3h-34.17zM102.62 364h34.17v1h-34.17zM102.62 444h34.17v2h-34.17zM170.88 406h34.17v1h-34.17zM205.00 77h34.17v2h-34.17zM205.00 405h34.17v3h-34.17zM239.12 457h34.17v3h-34.17zM273.25 123h34.17v3h-34.17zM341.50 119h34.17v2h-34.17zM341.50 199h34.17v3h-34.17zM341.50 237h34.17v3h-34.17zM375.62 173h34.17v1h-34.17zM443.88 204h34.17v2h-34.17z"/><path fill="#d3d3ff" d="M68.50 365h34.17v1h-34.17zM102.62 370h34.17v1h-34.17zM170.88 369h34.17v3h-34.17zM170.88 381h34.17v2h-34.17zM205.00 462h34.17v1h-34.17zM273.25 66h34.17v3h-34.17zM273.25 209h34.17v2h-34.17zM307.38 96h34.17v2h-34.17z"/><path fill="#aeaeff" d="M68.50 366h34.17v1h-34.17zM68.50 391h34.17v1h-34.17zM68.50 400h34.17v2h-34.17zM205.00 461h34.17v1h-34.17zM239.12 108h34.17v1h-34.17zM239.12 366h34.17v1h-34.17zM273.25 219h34.17v1h-34.17zM273.25 249h34.17v1h-34.17zM307.38 155h34.17v2h-34.17zM307.38 163h34.17v1h-34.17zM341.50 218h34.17v3h-34.17zM341.50 227h34.17v1h-34.17zM341.50 242h34.17v2h-34.17zM375.62 98h34.17v2h-34.17zM375.62 333h34.17v2h-34.17zM409.75 71h34.17v1h-34.17zM409.75 122h34.17v1h-34.17zM409.75 206h34.17v3h-34.17zM409.75 262h34.17v2h-34.17zM443.88 107h34.17v2h-34.17zM443.88 132h34.17v1h-34.17zM443.88 154h34.17v1h-34.17zM443.88 193h34.17v1h-34.17z"/><path fill="#ceceff" d="M68.50 367h34.17v2h-34.17zM170.88 368h34.17v1h-34.17zM239.12 81h34.17v1h-34.17zM239.12 202h34.17v3h-34.17zM273.25 74h34.17v1h-34.17zM273.25 251h34.17v1h-34.17zM273.25 275h34.17v1h-34.17zM307.38 135h34.17v1h-34.17zM341.50 155h34.17v1h-34.17zM341.50 320h34.17v1h-34.17z"/><path fill="#fff7f7" d="M68.50 374h34.17v3h-34.17zM341.50 71h34.17v1h-34.17z"/><path fill="#ededff" d="M68.50 379h34.17v1h-34.17zM205.00 426h34.17v2h-34.17zM273.25 69h34.17v2h-34.17zM273.25 207h34.17v2h-34.17zM273.25 475h34.17v1h-34.17zM307.38 210h34.17v1h-34.17zM307.38 268h34.17v3h-34.17z"/><path fill="#afafff" d="M68.50 381h34.17v1h-34.17zM68.50 383h34.17v1h-34.17zM68.50 428h34.17v3h-34.17zM102.62 407h34.17v2h-34.17zM205.00 362h34.17v1h-34.17zM205.00 392h34.17v2h-34.17zM273.25 100h34.17v1h-34.17zM273.25 191h34.17v3h-34.17zM273.25 234h34.17v2h-34.17zM307.38 152h34.17v1h-34.17zM307.38 161h34.17v1h-34.17zM307.38 212h34.17v3h-34.17zM341.50 106h34.17v2h-34.17zM341.50 223h34.17v2h-34.17zM375.62 215h34.17v2h-34.17zM375.62 249h34.17v1h-34.17zM409.75 165h34.17v3h-34.17zM409.75 194h34.17v2h-34.17zM443.88 161h34.17v1h-34.17zM443.88 327h34.17v1h-34.17z"/><path fill="#9d9dff" d="M68.50 382h34.17v1h-34.17zM102.62 443h34.17v1h-34.17zM102.62 463h34.17v1h-34.17zM136.75 466h34.17v2h-34.17zM170.88 439h34.17v1h-34.17zM205.00 379h34.17v1h-34.17zM205.00 383h34.17v1h-34.17zM205.00 452h34.17v1h-34.17zM239.12 384h34.17v2h-34.17zM239.12 413h34.17v2h-34.17zM341.50 91h34.17v1h-34.17zM341.50 295h34.17v2h-34.17zM443.88 166h34.17v1h-34.17z"/><path fill="#c3c3ff" d="M68.50 386h34.17v3h-34.17zM136.75 376h34.17v3h-34.17zM170.88 467h34.17v2h-34.17zM205.00 423h34.17v3h-34.17zM239.12 85h34.17v1h-34.17zM273.25 140h34.17v2h-34.17zM273.25 472h34.17v1h-34.17zM307.38 100h34.17v1h-34.17zM307.38 116h34.17v1h-34.17zM307.38 157h34.17v2h-34.17zM375.62 204h34.17v1h-34.17zM409.75 75h34.17v1h-34.17zM443.88 103h34.17v2h-34.17zM443.88 120h34.17v2h-34.17zM443.88 139h34.17v2h-34.17zM443.88 151h34.17v3h-34.17zM443.88 180h34.17v3h-34.17z"/><path fill="#a2a2ff" d="M68.50 392h34.17v1h-34.17zM102.62 482h34.17v2h-34.17zM170.88 482h34.17v2h-34.17zM205.00 456h34.17v1h-34.17zM239.12 449h34.17v1h-34.17zM307.38 177h34.17v2h-34.17zM341.50 141h34.17v1h-34.17zM341.50 273h34.17v1h-34.17zM375.62 229h34.17v3h-34.17zM409.75 132h34.17v2h-34.17zM409.75 197h34.17v3h-34.17zM409.75 292h34.17v2h-34.17zM409.75 331h34.17v1h-34.17zM443.88 209h34.17v3h-34.17zM443.88 224h34.17v1h-34.17z"/><path fill="#bcbcff" d="M68.50 393h34.17v3h-34.17zM68.50 406h34.17v3h-34.17zM102.62 399h34.17v1h-34.17zM136.75 461h34.17v1h-34.17zM170.88 366h34.17v1h-34.17zM170.88 407h34.17v1h-34.17zM239.12 370h34.17v1h-34.17zM273.25 184h34.17v1h-34.17zM273.25 279h34.17v2h-34.17zM273.25 295h34.17v1h-34.17zM307.38 180h34.17v2h-34.17zM375.62 96h34.17v2h-34.17zM375.62 105h34.17v2h-34.17zM375.62 235h34.17v2h-34.17zM375.62 326h34.17v3h-34.17zM409.75 93h34.17v3h-34.17zM409.75 120h34.17v2h-34.17zM409.75 255h34.17v2h-34.17zM443.88 229h34.17v1h-34.17z"/><path fill="#9696ff" d="M68.50 396h34.17v1h-34.17zM239.12 371h34.17v1h-34.17zM273.25 130h34.17v1h-34.17zM307.38 153h34.17v2h-34.17zM341.50 259h34.17v2h-34.17zM375.62 167h34.17v2h-34.17zM375.62 174h34.17v1h-34.17zM375.62 335h34.17v1h-34.17zM409.75 72h34.17v1h-34.17zM409.75 135h34.17v2h-34.17zM443.88 232h34.17v2h-34.17zM443.88 282h34.17v2h-34.17z"/><path fill="#b0b0ff" d="M68.50 397h34.17v3h-34.17zM68.50 419h34.17v1h-34.17zM136.75 341h34.17v1h-34.17zM136.75 400h34.17v3h-34.17zM136.75 452h34.17v1h-34.17zM136.75 457h34.17v3h-34.17zM170.88 459h34.17v1h-34.17zM205.00 361h34.17v1h-34.17zM205.00 386h34.17v2h-34.17zM205.00 401h34.17v2h-34.17zM239.12 386h34.17v1h-34.17zM239.12 443h34.17v2h-34.17zM273.25 121h34.17v2h-34.17zM273.25 155h34.17v1h-34.17zM307.38 251h34.17v2h-34.17zM341.50 164h34.17v1h-34.17zM341.50 168h34.17v1h-34.17zM341.50 186h34.17v2h-34.17zM341.50 226h34.17v1h-34.17zM341.50 264h34.17v3h-34.17zM375.62 100h34.17v1h-34.17zM375.62 116h34.17v3h-34.17zM409.75 83h34.17v2h-34.17zM409.75 202h34.17v2h-34.17zM409.75 220h34.17v1h-34.17zM443.88 214h34.17v1h-34.17zM443.88 276h34.17v1h-34.17zM443.88 331h34.17v2h-34.17z"/><path fill="#b1b1ff" d="M68.50 405h34.17v1h-34.17zM170.88 438h34.17v1h-34.17zM205.00 79h34.17v1h-34.17zM205.00 344h34.17v2h-34.17zM205.00 463h34.17v3h-34.17zM273.25 229h34.17v3h-34.17zM273.25 243h34.17v1h-34.17zM273.25 335h34.17v1h-34.17zM341.50 124h34.17v2h-34.17zM341.50 215h34.17v1h-34.17zM375.62 264h34.17v2h-34.17zM409.75 85h34.17v1h-34.17zM409.75 191h34.17v2h-34.17zM409.75 265h34.17v1h-34.17zM409.75 318h34.17v2h-34.17zM443.88 131h34.17v1h-34.17z"/><path fill="#b2b2ff" d="M68.50 409h34.17v3h-34.17zM68.50 427h34.17v1h-34.17zM68.50 454h34.17v2h-34.17zM102.62 400h34.17v1h-34.17zM136.75 345h34.17v1h-34.17zM136.75 423h34.17v1h-34.17zM136.75 426h34.17v3h-34.17zM136.75 460h34.17v1h-34.17zM205.00 364h34.17v3h-34.17zM239.12 110h34.17v1h-34.17zM239.12 438h34.17v2h-34.17zM239.12 450h34.17v1h-34.17zM273.25 143h34.17v2h-34.17zM273.25 242h34.17v1h-34.17zM307.38 148h34.17v2h-34.17zM341.50 313h34.17v1h-34.17zM375.62 202h34.17v2h-34.17zM375.62 217h34.17v1h-34.17zM375.62 225h34.17v3h-34.17zM409.75 81h34.17v2h-34.17zM409.75 201h34.17v1h-34.17zM443.88 122h34.17v1h-34.17zM443.88 323h34.17v3h-34.17zM443.88 341h34.17v3h-34.17z"/><path fill="#b5b5ff" d="M68.50 414h34.17v5h-34.17zM68.50 435h34.17v2h-34.17zM136.75 397h34.17v3h-34.17zM136.75 446h34.17v2h-34.17zM205.00 377h34.17v2h-34.17zM205.00 457h34.17v2h-34.17zM239.12 78h34.17v1h-34.17zM239.12 460h34.17v2h-34.17zM273.25 246h34.17v3h-34.17zM341.50 275h34.17v1h-34.17zM341.50 308h34.17v3h-34.17zM375.62 170h34.17v2h-34.17zM375.62 232h34.17v3h-34.17zM375.62 290h34.17v3h-34.17zM409.75 91h34.17v2h-34.17zM409.75 174h34.17v1h-34.17zM443.88 105h34.17v1h-34.17zM443.88 184h34.17v2h-34.17zM443.88 235h34.17v1h-34.17z"/><path fill="#b3b3ff" d="M68.50 420h34.17v2h-34.17zM102.62 411h34.17v2h-34.17zM170.88 405h34.17v1h-34.17zM170.88 428h34.17v1h-34.17zM170.88 462h34.17v2h-34.17zM205.00 411h34.17v3h-34.17zM239.12 401h34.17v2h-34.17zM239.12 418h34.17v3h-34.17zM273.25 232h34.17v2h-34.17zM307.38 147h34.17v1h-34.17zM307.38 185h34.17v3h-34.17zM341.50 178h34.17v1h-34.17zM341.50 280h34.17v1h-34.17zM375.62 187h34.17v1h-34.17zM375.62 195h34.17v1h-34.17zM375.62 285h34.17v1h-34.17zM375.62 296h34.17v3h-34.17zM409.75 131h34.17v1h-34.17zM443.88 176h34.17v1h-34.17zM443.88 200h34.17v1h-34.17zM443.88 254h34.17v2h-34.17z"/><path fill="#bbbbff" d="M68.50 422h34.17v3h-34.17zM68.50 479h34.17v1h-34.17zM102.62 361h34.17v3h-34.17zM102.62 458h34.17v2h-34.17zM136.75 379h34.17v2h-34.17zM136.75 416h34.17v3h-34.17zM170.88 411h34.17v1h-34.17zM170.88 434h34.17v2h-34.17zM205.00 341h34.17v1h-34.17zM239.12 109h34.17v1h-34.17zM239.12 352h34.17v2h-34.17zM273.25 131h34.17v1h-34.17zM341.50 116h34.17v1h-34.17zM341.50 132h34.17v2h-34.17zM341.50 142h34.17v1h-34.17zM375.62 281h34.17v2h-34.17zM375.62 336h34.17v1h-34.17zM409.75 161h34.17v2h-34.17zM443.88 109h34.17v2h-34.17zM443.88 169h34.17v3h-34.17zM443.88 374h34.17v2h-34.17z"/><path fill="#a1a1ff" d="M68.50 425h34.17v2h-34.17zM136.75 450h34.17v1h-34.17zM170.88 437h34.17v1h-34.17zM239.12 437h34.17v1h-34.17zM273.25 167h34.17v2h-34.17zM273.25 331h34.17v1h-34.17zM307.38 192h34.17v2h-34.17zM307.38 321h34.17v2h-34.17zM307.38 331h34.17v1h-34.17zM341.50 156h34.17v2h-34.17zM341.50 165h34.17v3h-34.17zM375.62 262h34.17v2h-34.17zM409.75 177h34.17v2h-34.17zM443.88 164h34.17v2h-34.17zM443.88 179h34.17v1h-34.17zM443.88 250h34.17v1h-34.17z"/><path fill="#9292ff" d="M68.50 431h34.17v2h-34.17zM239.12 66h34.17v3h-34.17zM239.12 392h34.17v1h-34.17zM273.25 103h34.17v3h-34.17zM341.50 299h34.17v2h-34.17zM409.75 222h34.17v1h-34.17zM409.75 268h34.17v1h-34.17zM409.75 288h34.17v2h-34.17zM409.75 294h34.17v1h-34.17zM443.88 301h34.17v3h-34.17z"/><path fill="#c9c9ff" d="M68.50 433h34.17v2h-34.17zM170.88 346h34.17v2h-34.17zM170.88 388h34.17v3h-34.17zM170.88 400h34.17v2h-34.17zM170.88 456h34.17v3h-34.17zM205.00 408h34.17v2h-34.17zM239.12 342h34.17v1h-34.17zM273.25 158h34.17v3h-34.17zM307.38 118h34.17v2h-34.17zM307.38 179h34.17v1h-34.17zM307.38 235h34.17v1h-34.17zM307.38 259h34.17v1h-34.17zM341.50 114h34.17v2h-34.17zM341.50 240h34.17v2h-34.17zM341.50 311h34.17v2h-34.17zM375.62 159h34.17v1h-34.17zM375.62 307h34.17v1h-34.17zM375.62 332h34.17v1h-34.17zM409.75 346h34.17v1h-34.17zM443.88 244h34.17v2h-34.17z"/><path fill="#c7c7ff" d="M68.50 437h34.17v2h-34.17zM102.62 348h34.17v1h-34.17zM205.00 468h34.17v3h-34.17zM273.25 294h34.17v1h-34.17zM307.38 121h34.17v1h-34.17zM307.38 228h34.17v1h-34.17zM375.62 143h34.17v1h-34.17zM375.62 149h34.17v2h-34.17zM443.88 112h34.17v2h-34.17z"/><path fill="#d2d2ff" d="M68.50 439h34.17v2h-34.17zM136.75 370h34.17v1h-34.17zM239.12 280h34.17v1h-34.17zM239.12 343h34.17v2h-34.17zM273.25 223h34.17v1h-34.17zM341.50 182h34.17v2h-34.17zM341.50 307h34.17v1h-34.17zM409.75 326h34.17v2h-34.17zM443.88 337h34.17v3h-34.17z"/><path fill="#c4c4ff" d="M68.50 441h34.17v2h-34.17zM136.75 434h34.17v1h-34.17zM205.00 410h34.17v1h-34.17zM239.12 350h34.17v2h-34.17zM273.25 181h34.17v1h-34.17zM307.38 99h34.17v1h-34.17zM341.50 127h34.17v2h-34.17zM341.50 184h34.17v2h-34.17zM341.50 274h34.17v1h-34.17zM375.62 93h34.17v2h-34.17zM375.62 135h34.17v1h-34.17z"/><path fill="#d5d5ff" d="M68.50 443h34.17v3h-34.17zM102.62 409h34.17v2h-34.17zM136.75 348h34.17v1h-34.17zM239.12 101h34.17v2h-34.17zM307.38 125h34.17v2h-34.17zM307.38 226h34.17v1h-34.17zM307.38 244h34.17v3h-34.17zM307.38 336h34.17v2h-34.17zM341.50 96h34.17v3h-34.17zM341.50 245h34.17v1h-34.17zM341.50 336h34.17v3h-34.17zM375.62 114h34.17v2h-34.17zM375.62 313h34.17v2h-34.17zM375.62 359h34.17v2h-34.17zM409.75 252h34.17v1h-34.17z"/><path fill="#e3e3ff" d="M68.50 446h34.17v3h-34.17zM68.50 476h34.17v3h-34.17zM136.75 437h34.17v3h-34.17zM205.00 430h34.17v2h-34.17zM239.12 481h34.17v3h-34.17zM273.25 476h34.17v2h-34.17zM307.38 229h34.17v2h-34.17zM375.62 310h34.17v1h-34.17zM409.75 159h34.17v1h-34.17zM409.75 251h34.17v1h-34.17z"/><path fill="#e1e1ff" d="M68.50 449h34.17v1h-34.17zM102.62 367h34.17v3h-34.17zM136.75 415h34.17v1h-34.17zM170.88 364h34.17v2h-34.17zM239.12 276h34.17v1h-34.17zM239.12 387h34.17v1h-34.17zM273.25 271h34.17v2h-34.17zM307.38 130h34.17v2h-34.17zM307.38 294h34.17v1h-34.17zM341.50 324h34.17v1h-34.17zM375.62 280h34.17v1h-34.17zM443.88 320h34.17v1h-34.17z"/><path fill="#d6d6ff" d="M68.50 450h34.17v1h-34.17zM136.75 481h34.17v1h-34.17zM205.00 346h34.17v1h-34.17zM273.25 75h34.17v1h-34.17zM273.25 339h34.17v2h-34.17zM307.38 102h34.17v2h-34.17zM307.38 136h34.17v2h-34.17zM307.38 249h34.17v2h-34.17zM307.38 369h34.17v2h-34.17zM341.50 68h34.17v1h-34.17zM341.50 210h34.17v2h-34.17zM341.50 372h34.17v2h-34.17zM409.75 375h34.17v1h-34.17z"/><path fill="#b8b8ff" d="M68.50 451h34.17v1h-34.17zM102.62 419h34.17v2h-34.17zM136.75 391h34.17v3h-34.17zM136.75 424h34.17v2h-34.17zM170.88 436h34.17v1h-34.17zM205.00 91h34.17v1h-34.17zM205.00 94h34.17v1h-34.17zM205.00 363h34.17v1h-34.17zM205.00 436h34.17v1h-34.17zM239.12 398h34.17v2h-34.17zM239.12 427h34.17v3h-34.17zM273.25 139h34.17v1h-34.17zM273.25 213h34.17v1h-34.17zM273.25 332h34.17v3h-34.17zM307.38 117h34.17v1h-34.17zM307.38 171h34.17v2h-34.17zM307.38 366h34.17v1h-34.17zM307.38 476h34.17v2h-34.17zM341.50 108h34.17v2h-34.17zM341.50 139h34.17v2h-34.17zM341.50 191h34.17v1h-34.17zM375.62 201h34.17v1h-34.17zM409.75 134h34.17v1h-34.17zM409.75 204h34.17v2h-34.17zM443.88 198h34.17v2h-34.17zM443.88 230h34.17v2h-34.17zM443.88 264h34.17v2h-34.17zM443.88 333h34.17v2h-34.17z"/><path fill="#a9a9ff" d="M68.50 456h34.17v2h-34.17zM136.75 395h34.17v2h-34.17zM136.75 422h34.17v1h-34.17zM170.88 392h34.17v2h-34.17zM170.88 423h34.17v1h-34.17zM170.88 440h34.17v1h-34.17zM205.00 380h34.17v1h-34.17zM205.00 437h34.17v1h-34.17zM239.12 423h34.17v1h-34.17zM273.25 99h34.17v1h-34.17zM273.25 250h34.17v1h-34.17zM307.38 150h34.17v2h-34.17zM341.50 93h34.17v1h-34.17zM341.50 190h34.17v1h-34.17zM375.62 151h34.17v3h-34.17zM375.62 212h34.17v3h-34.17zM375.62 218h34.17v2h-34.17zM375.62 274h34.17v2h-34.17zM409.75 175h34.17v2h-34.17zM409.75 186h34.17v3h-34.17zM443.88 203h34.17v1h-34.17zM443.88 212h34.17v2h-34.17zM443.88 321h34.17v2h-34.17z"/><path fill="#9f9fff" d="M68.50 458h34.17v1h-34.17zM136.75 448h34.17v1h-34.17zM205.00 72h34.17v3h-34.17zM205.00 472h34.17v2h-34.17zM273.25 161h34.17v2h-34.17zM307.38 74h34.17v3h-34.17zM307.38 83h34.17v2h-34.17zM307.38 159h34.17v2h-34.17zM341.50 188h34.17v1h-34.17zM341.50 262h34.17v2h-34.17zM341.50 301h34.17v3h-34.17zM375.62 136h34.17v2h-34.17zM375.62 223h34.17v2h-34.17zM409.75 101h34.17v2h-34.17zM409.75 156h34.17v3h-34.17zM409.75 235h34.17v2h-34.17zM409.75 295h34.17v1h-34.17z"/><path fill="#b4b4ff" d="M68.50 459h34.17v6h-34.17zM136.75 403h34.17v3h-34.17zM136.75 435h34.17v1h-34.17zM136.75 449h34.17v1h-34.17zM170.88 417h34.17v2h-34.17zM170.88 445h34.17v1h-34.17zM170.88 460h34.17v2h-34.17zM239.12 103h34.17v3h-34.17zM239.12 412h34.17v1h-34.17zM239.12 426h34.17v1h-34.17zM239.12 456h34.17v1h-34.17zM273.25 169h34.17v2h-34.17zM273.25 238h34.17v3h-34.17zM341.50 129h34.17v1h-34.17zM375.62 163h34.17v1h-34.17zM409.75 117h34.17v3h-34.17zM409.75 341h34.17v3h-34.17zM443.88 95h34.17v3h-34.17zM443.88 201h34.17v1h-34.17zM443.88 241h34.17v2h-34.17z"/><path fill="#cacaff" d="M68.50 468h34.17v2h-34.17zM102.62 467h34.17v1h-34.17zM136.75 203h34.17v1h-34.17zM136.75 342h34.17v1h-34.17zM205.00 474h34.17v2h-34.17zM273.25 221h34.17v1h-34.17zM307.38 127h34.17v2h-34.17zM307.38 141h34.17v1h-34.17zM341.50 143h34.17v2h-34.17zM375.62 306h34.17v1h-34.17zM443.88 234h34.17v1h-34.17zM443.88 317h34.17v3h-34.17z"/><path fill="#fffcfc" d="M68.50 471h34.17v2h-34.17zM102.62 377h34.17v1h-34.17zM170.88 311h34.17v2h-34.17zM170.88 453h34.17v3h-34.17zM205.00 375h34.17v1h-34.17zM273.25 290h34.17v1h-34.17zM341.50 78h34.17v1h-34.17zM375.62 198h34.17v1h-34.17zM443.88 479h34.17v1h-34.17z"/><path fill="#fff9f9" d="M68.50 473h34.17v3h-34.17zM102.62 477h34.17v3h-34.17zM136.75 442h34.17v2h-34.17zM239.12 75h34.17v1h-34.17zM239.12 269h34.17v2h-34.17zM307.38 300h34.17v1h-34.17zM341.50 353h34.17v2h-34.17zM375.62 377h34.17v3h-34.17zM443.88 472h34.17v2h-34.17z"/><path fill="#d4d4ff" d="M68.50 480h34.17v1h-34.17zM102.62 73h34.17v1h-34.17zM170.88 367h34.17v1h-34.17zM273.25 73h34.17v1h-34.17zM273.25 368h34.17v2h-34.17zM307.38 222h34.17v2h-34.17zM307.38 227h34.17v1h-34.17zM307.38 261h34.17v4h-34.17zM341.50 136h34.17v3h-34.17zM341.50 277h34.17v3h-34.17zM341.50 325h34.17v3h-34.17zM375.62 188h34.17v1h-34.17zM375.62 192h34.17v3h-34.17zM375.62 279h34.17v1h-34.17zM409.75 70h34.17v1h-34.17zM443.88 344h34.17v1h-34.17zM443.88 476h34.17v3h-34.17z"/><path fill="#f9f9ff" d="M68.50 481h34.17v2h-34.17zM102.62 432h34.17v1h-34.17zM136.75 337h34.17v3h-34.17zM170.88 341h34.17v1h-34.17zM239.12 92h34.17v2h-34.17zM239.12 260h34.17v1h-34.17zM239.12 364h34.17v2h-34.17zM307.38 340h34.17v1h-34.17zM443.88 450h34.17v1h-34.17z"/><path fill="#cfcfff" d="M102.62 71h34.17v1h-34.17zM102.62 349h34.17v2h-34.17zM205.00 349h34.17v2h-34.17zM273.25 252h34.17v3h-34.17zM341.50 253h34.17v1h-34.17zM341.50 276h34.17v1h-34.17zM375.62 312h34.17v1h-34.17zM409.75 128h34.17v1h-34.17z"/><path fill="#e0e0ff" d="M102.62 72h34.17v1h-34.17zM136.75 367h34.17v2h-34.17zM307.38 243h34.17v1h-34.17zM409.75 114h34.17v2h-34.17zM443.88 69h34.17v2h-34.17zM443.88 111h34.17v1h-34.17z"/><path fill="#cdcdff" d="M102.62 74h34.17v2h-34.17zM136.75 432h34.17v2h-34.17zM273.25 117h34.17v3h-34.17zM341.50 244h34.17v1h-34.17zM375.62 246h34.17v1h-34.17zM375.62 338h34.17v1h-34.17zM409.75 109h34.17v2h-34.17zM409.75 471h34.17v3h-34.17z"/><path fill="#ffe1e1" d="M102.62 81h34.17v2h-34.17zM102.62 90h34.17v1h-34.17zM136.75 179h34.17v2h-34.17zM205.00 312h34.17v3h-34.17zM205.00 336h34.17v1h-34.17zM307.38 381h34.17v1h-34.17zM341.50 477h34.17v1h-34.17z"/><path fill="#ffcece" d="M102.62 84h34.17v2h-34.17zM102.62 164h34.17v3h-34.17zM102.62 283h34.17v2h-34.17zM136.75 112h34.17v2h-34.17zM136.75 356h34.17v2h-34.17zM170.88 168h34.17v1h-34.17zM170.88 294h34.17v1h-34.17zM239.12 272h34.17v1h-34.17zM273.25 86h34.17v3h-34.17zM273.25 371h34.17v1h-34.17zM375.62 76h34.17v1h-34.17zM409.75 430h34.17v2h-34.17z"/><path fill="#fff1f1" d="M102.62 86h34.17v2h-34.17zM102.62 310h34.17v1h-34.17zM136.75 96h34.17v1h-34.17zM375.62 319h34.17v1h-34.17z"/><path fill="#fff3f3" d="M102.62 88h34.17v2h-34.17zM102.62 352h34.17v1h-34.17zM409.75 379h34.17v1h-34.17zM443.88 365h34.17v1h-34.17z"/><path fill="#ff7171" d="M102.62 91h34.17v2h-34.17z"/><path fill="#ff8383" d="M102.62 93h34.17v1h-34.17zM102.62 221h34.17v1h-34.17zM136.75 108h34.17v1h-34.17zM205.00 208h34.17v2h-34.17zM375.62 366h34.17v2h-34.17z"/><path fill="#ff8181" d="M102.62 94h34.17v2h-34.17zM205.00 201h34.17v1h-34.17zM307.38 349h34.17v2h-34.17zM307.38 356h34.17v1h-34.17zM443.88 368h34.17v3h-34.17zM443.88 467h34.17v1h-34.17z"/><path fill="#ffd3d3" d="M102.62 106h34.17v1h-34.17zM136.75 207h34.17v2h-34.17zM136.75 334h34.17v2h-34.17zM205.00 340h34.17v1h-34.17zM239.12 263h34.17v3h-34.17zM239.12 273h34.17v3h-34.17zM273.25 466h34.17v2h-34.17zM307.38 464h34.17v2h-34.17zM341.50 436h34.17v2h-34.17z"/><path fill="#ff9393" d="M102.62 112h34.17v2h-34.17zM102.62 150h34.17v3h-34.17zM170.88 71h34.17v2h-34.17zM239.12 222h34.17v1h-34.17zM273.25 354h34.17v1h-34.17zM273.25 436h34.17v1h-34.17zM341.50 432h34.17v2h-34.17z"/><path fill="#ff9c9c" d="M102.62 190h34.17v1h-34.17zM102.62 229h34.17v2h-34.17zM102.62 255h34.17v2h-34.17zM136.75 187h34.17v2h-34.17zM205.00 306h34.17v2h-34.17zM205.00 328h34.17v3h-34.17zM239.12 239h34.17v1h-34.17zM273.25 315h34.17v1h-34.17zM273.25 372h34.17v3h-34.17zM341.50 460h34.17v2h-34.17zM443.88 390h34.17v1h-34.17z"/><path fill="#ff7f7f" d="M102.62 197h34.17v2h-34.17zM443.88 366h34.17v1h-34.17z"/><path fill="#ff8a8a" d="M102.62 199h34.17v2h-34.17zM170.88 239h34.17v2h-34.17zM239.12 163h34.17v2h-34.17zM307.38 342h34.17v2h-34.17zM409.75 391h34.17v3h-34.17z"/><path fill="#ffa0a0" d="M102.62 201h34.17v1h-34.17zM136.75 183h34.17v3h-34.17zM136.75 316h34.17v1h-34.17zM136.75 318h34.17v1h-34.17zM170.88 143h34.17v3h-34.17zM170.88 197h34.17v1h-34.17zM205.00 277h34.17v1h-34.17zM205.00 308h34.17v1h-34.17zM239.12 221h34.17v1h-34.17zM239.12 281h34.17v3h-34.17zM273.25 442h34.17v3h-34.17zM307.38 69h34.17v1h-34.17zM307.38 344h34.17v2h-34.17zM341.50 384h34.17v1h-34.17zM409.75 433h34.17v2h-34.17zM409.75 446h34.17v1h-34.17z"/><path fill="#ff8888" d="M102.62 228h34.17v1h-34.17zM136.75 105h34.17v3h-34.17zM136.75 192h34.17v1h-34.17zM170.88 97h34.17v1h-34.17zM239.12 166h34.17v2h-34.17zM239.12 176h34.17v1h-34.17zM239.12 240h34.17v1h-34.17zM273.25 431h34.17v1h-34.17z"/><path fill="#ffe2e2" d="M102.62 281h34.17v2h-34.17zM136.75 259h34.17v2h-34.17zM170.88 268h34.17v1h-34.17zM273.25 281h34.17v2h-34.17z"/><path fill="#ffbbbb" d="M102.62 298h34.17v2h-34.17zM136.75 155h34.17v1h-34.17zM136.75 242h34.17v1h-34.17zM136.75 263h34.17v2h-34.17zM170.88 321h34.17v3h-34.17zM205.00 285h34.17v3h-34.17zM239.12 142h34.17v1h-34.17zM273.25 392h34.17v1h-34.17zM273.25 463h34.17v3h-34.17zM307.38 301h34.17v3h-34.17zM307.38 458h34.17v1h-34.17zM341.50 440h34.17v1h-34.17zM375.62 387h34.17v2h-34.17zM443.88 451h34.17v1h-34.17z"/><path fill="#ffc5c5" d="M102.62 303h34.17v2h-34.17zM102.62 320h34.17v2h-34.17zM136.75 175h34.17v1h-34.17zM205.00 288h34.17v1h-34.17zM239.12 151h34.17v2h-34.17zM239.12 249h34.17v2h-34.17zM273.25 107h34.17v2h-34.17zM273.25 407h34.17v1h-34.17zM273.25 456h34.17v1h-34.17zM341.50 398h34.17v2h-34.17z"/><path fill="#ffeded" d="M102.62 333h34.17v2h-34.17zM102.62 384h34.17v1h-34.17zM239.12 328h34.17v1h-34.17zM273.25 109h34.17v1h-34.17zM341.50 83h34.17v2h-34.17z"/><path fill="#f4f4ff" d="M102.62 335h34.17v1h-34.17zM102.62 351h34.17v1h-34.17zM136.75 444h34.17v1h-34.17zM205.00 372h34.17v2h-34.17zM205.00 445h34.17v1h-34.17zM239.12 71h34.17v3h-34.17zM239.12 259h34.17v1h-34.17zM273.25 197h34.17v3h-34.17zM307.38 271h34.17v1h-34.17zM375.62 71h34.17v1h-34.17zM375.62 111h34.17v1h-34.17z"/><path fill="#ffe4e4" d="M102.62 336h34.17v1h-34.17zM102.62 360h34.17v1h-34.17zM170.88 342h34.17v1h-34.17zM341.50 76h34.17v2h-34.17z"/><path fill="#d0d0ff" d="M102.62 346h34.17v2h-34.17zM239.12 348h34.17v2h-34.17zM273.25 211h34.17v2h-34.17zM307.38 247h34.17v2h-34.17zM341.50 99h34.17v2h-34.17zM341.50 321h34.17v3h-34.17zM341.50 330h34.17v1h-34.17zM375.62 315h34.17v1h-34.17zM375.62 337h34.17v1h-34.17zM375.62 344h34.17v2h-34.17zM409.75 106h34.17v3h-34.17zM443.88 220h34.17v2h-34.17z"/><path fill="#f6f6ff" d="M102.62 353h34.17v3h-34.17zM136.75 311h34.17v1h-34.17zM136.75 313h34.17v3h-34.17zM136.75 363h34.17v1h-34.17zM205.00 352h34.17v1h-34.17zM375.62 320h34.17v2h-34.17zM409.75 376h34.17v3h-34.17z"/><path fill="#ffd5d5" d="M102.62 358h34.17v2h-34.17zM170.88 76h34.17v2h-34.17zM170.88 91h34.17v2h-34.17zM239.12 116h34.17v1h-34.17zM239.12 297h34.17v2h-34.17zM273.25 382h34.17v1h-34.17zM273.25 469h34.17v2h-34.17zM307.38 382h34.17v2h-34.17zM307.38 466h34.17v2h-34.17zM443.88 71h34.17v1h-34.17z"/><path fill="#ececff" d="M102.62 366h34.17v1h-34.17zM170.88 383h34.17v1h-34.17zM205.00 305h34.17v1h-34.17zM341.50 371h34.17v1h-34.17zM409.75 253h34.17v2h-34.17zM409.75 347h34.17v2h-34.17zM409.75 373h34.17v2h-34.17z"/><path fill="#fff4f4" d="M102.62 371h34.17v1h-34.17zM102.62 374h34.17v1h-34.17zM102.62 476h34.17v1h-34.17z"/><path fill="#ffecec" d="M102.62 372h34.17v2h-34.17zM102.62 471h34.17v1h-34.17zM102.62 480h34.17v1h-34.17zM136.75 238h34.17v2h-34.17zM136.75 336h34.17v1h-34.17zM205.00 374h34.17v1h-34.17zM307.38 90h34.17v1h-34.17zM307.38 468h34.17v2h-34.17zM443.88 66h34.17v1h-34.17zM443.88 362h34.17v3h-34.17zM443.88 471h34.17v1h-34.17z"/><path fill="#ffe5e5" d="M102.62 380h34.17v2h-34.17zM170.88 204h34.17v2h-34.17zM170.88 273h34.17v2h-34.17zM375.62 361h34.17v3h-34.17zM443.88 428h34.17v2h-34.17z"/><path fill="#ffd1d1" d="M102.62 382h34.17v2h-34.17zM136.75 256h34.17v3h-34.17zM170.88 219h34.17v1h-34.17zM170.88 235h34.17v1h-34.17zM205.00 115h34.17v1h-34.17zM205.00 274h34.17v2h-34.17zM239.12 120h34.17v1h-34.17zM307.38 457h34.17v1h-34.17zM375.62 392h34.17v1h-34.17zM375.62 401h34.17v1h-34.17zM443.88 408h34.17v3h-34.17z"/><path fill="#ffd9d9" d="M102.62 385h34.17v1h-34.17zM136.75 236h34.17v2h-34.17zM170.88 254h34.17v2h-34.17zM273.25 106h34.17v1h-34.17zM409.75 361h34.17v1h-34.17z"/><path fill="#acacff" d="M102.62 389h34.17v2h-34.17zM205.00 370h34.17v1h-34.17zM239.12 369h34.17v1h-34.17zM307.38 114h34.17v1h-34.17zM307.38 164h34.17v2h-34.17zM307.38 175h34.17v2h-34.17zM307.38 184h34.17v1h-34.17zM341.50 232h34.17v3h-34.17zM341.50 271h34.17v2h-34.17zM375.62 175h34.17v1h-34.17zM375.62 242h34.17v2h-34.17zM375.62 250h34.17v1h-34.17zM375.62 257h34.17v2h-34.17zM375.62 272h34.17v2h-34.17zM409.75 171h34.17v3h-34.17zM409.75 217h34.17v3h-34.17zM443.88 207h34.17v2h-34.17zM443.88 251h34.17v3h-34.17z"/><path fill="#bebeff" d="M102.62 391h34.17v1h-34.17zM170.88 87h34.17v3h-34.17zM170.88 377h34.17v2h-34.17zM170.88 394h34.17v2h-34.17zM170.88 402h34.17v3h-34.17zM170.88 465h34.17v2h-34.17zM205.00 391h34.17v1h-34.17zM205.00 399h34.17v2h-34.17zM239.12 196h34.17v1h-34.17zM239.12 403h34.17v2h-34.17zM239.12 424h34.17v1h-34.17zM273.25 241h34.17v1h-34.17zM307.38 111h34.17v3h-34.17zM307.38 129h34.17v1h-34.17zM341.50 134h34.17v2h-34.17zM341.50 175h34.17v1h-34.17zM341.50 228h34.17v1h-34.17zM341.50 235h34.17v2h-34.17zM375.62 101h34.17v2h-34.17zM375.62 132h34.17v2h-34.17zM375.62 154h34.17v3h-34.17z"/><path fill="#a8a8ff" d="M102.62 394h34.17v3h-34.17zM102.62 436h34.17v3h-34.17zM102.62 446h34.17v1h-34.17zM102.62 455h34.17v1h-34.17zM170.88 396h34.17v4h-34.17zM205.00 398h34.17v1h-34.17zM273.25 176h34.17v3h-34.17zM307.38 332h34.17v1h-34.17zM341.50 261h34.17v1h-34.17zM375.62 209h34.17v1h-34.17zM375.62 247h34.17v1h-34.17zM443.88 147h34.17v2h-34.17zM443.88 326h34.17v1h-34.17z"/><path fill="#a5a5ff" d="M102.62 397h34.17v1h-34.17zM102.62 481h34.17v1h-34.17zM205.00 388h34.17v3h-34.17zM273.25 276h34.17v2h-34.17zM341.50 169h34.17v3h-34.17zM341.50 255h34.17v1h-34.17zM375.62 68h34.17v1h-34.17zM375.62 148h34.17v1h-34.17zM409.75 73h34.17v2h-34.17zM409.75 137h34.17v1h-34.17zM443.88 92h34.17v3h-34.17zM443.88 228h34.17v1h-34.17zM443.88 243h34.17v1h-34.17z"/><path fill="#a6a6ff" d="M102.62 398h34.17v1h-34.17zM102.62 415h34.17v1h-34.17zM102.62 425h34.17v1h-34.17zM102.62 441h34.17v2h-34.17zM102.62 448h34.17v3h-34.17zM136.75 407h34.17v1h-34.17zM205.00 382h34.17v1h-34.17zM239.12 368h34.17v1h-34.17zM239.12 436h34.17v1h-34.17zM239.12 447h34.17v2h-34.17zM307.38 255h34.17v2h-34.17zM341.50 121h34.17v3h-34.17zM375.62 119h34.17v3h-34.17zM375.62 283h34.17v2h-34.17zM409.75 261h34.17v1h-34.17zM409.75 344h34.17v2h-34.17zM443.88 172h34.17v3h-34.17zM443.88 177h34.17v2h-34.17zM443.88 189h34.17v1h-34.17zM443.88 261h34.17v3h-34.17zM443.88 315h34.17v1h-34.17z"/><path fill="#8484ff" d="M102.62 401h34.17v2h-34.17zM136.75 453h34.17v1h-34.17zM205.00 381h34.17v1h-34.17zM443.88 190h34.17v1h-34.17z"/><path fill="#adadff" d="M102.62 403h34.17v1h-34.17zM136.75 389h34.17v2h-34.17zM205.00 95h34.17v1h-34.17zM205.00 396h34.17v1h-34.17zM273.25 112h34.17v3h-34.17zM273.25 236h34.17v2h-34.17zM307.38 162h34.17v1h-34.17zM307.38 167h34.17v3h-34.17zM307.38 190h34.17v2h-34.17zM307.38 194h34.17v1h-34.17zM341.50 176h34.17v2h-34.17zM341.50 193h34.17v2h-34.17zM341.50 196h34.17v3h-34.17zM341.50 225h34.17v1h-34.17zM341.50 229h34.17v1h-34.17zM375.62 210h34.17v2h-34.17zM375.62 286h34.17v2h-34.17zM409.75 123h34.17v2h-34.17zM443.88 91h34.17v1h-34.17zM443.88 194h34.17v3h-34.17zM443.88 279h34.17v2h-34.17z"/><path fill="#a7a7ff" d="M102.62 413h34.17v1h-34.17zM205.00 421h34.17v2h-34.17zM239.12 106h34.17v2h-34.17zM273.25 115h34.17v1h-34.17zM273.25 148h34.17v2h-34.17zM307.38 170h34.17v1h-34.17zM341.50 110h34.17v1h-34.17zM341.50 179h34.17v2h-34.17zM341.50 189h34.17v1h-34.17zM341.50 192h34.17v1h-34.17zM341.50 212h34.17v3h-34.17zM375.62 122h34.17v3h-34.17zM409.75 98h34.17v3h-34.17zM409.75 355h34.17v1h-34.17zM443.88 168h34.17v1h-34.17zM443.88 191h34.17v2h-34.17zM443.88 295h34.17v1h-34.17z"/><path fill="#cbcbff" d="M102.62 414h34.17v1h-34.17zM239.12 341h34.17v1h-34.17zM273.25 136h34.17v1h-34.17zM273.25 203h34.17v2h-34.17zM307.38 146h34.17v1h-34.17zM375.62 144h34.17v3h-34.17zM409.75 260h34.17v1h-34.17zM409.75 328h34.17v2h-34.17zM443.88 137h34.17v2h-34.17zM443.88 328h34.17v3h-34.17z"/><path fill="#b9b9ff" d="M102.62 421h34.17v1h-34.17zM102.62 447h34.17v1h-34.17zM170.88 464h34.17v1h-34.17zM239.12 440h34.17v1h-34.17zM239.12 465h34.17v1h-34.17zM273.25 153h34.17v2h-34.17zM307.38 166h34.17v1h-34.17zM307.38 323h34.17v2h-34.17zM307.38 333h34.17v3h-34.17zM341.50 130h34.17v2h-34.17zM341.50 158h34.17v3h-34.17zM341.50 319h34.17v1h-34.17zM375.62 164h34.17v3h-34.17zM409.75 168h34.17v3h-34.17zM409.75 181h34.17v2h-34.17zM443.88 116h34.17v1h-34.17zM443.88 129h34.17v2h-34.17zM443.88 155h34.17v1h-34.17zM443.88 162h34.17v2h-34.17zM443.88 215h34.17v2h-34.17zM443.88 345h34.17v1h-34.17z"/><path fill="#9595ff" d="M102.62 429h34.17v1h-34.17zM239.12 376h34.17v2h-34.17zM273.25 257h34.17v2h-34.17zM341.50 246h34.17v1h-34.17zM375.62 160h34.17v3h-34.17zM375.62 293h34.17v1h-34.17zM409.75 116h34.17v1h-34.17zM409.75 179h34.17v2h-34.17zM409.75 237h34.17v1h-34.17zM443.88 246h34.17v1h-34.17zM443.88 355h34.17v1h-34.17z"/><path fill="#c0c0ff" d="M102.62 430h34.17v1h-34.17zM136.75 366h34.17v1h-34.17zM136.75 412h34.17v2h-34.17zM273.25 292h34.17v2h-34.17zM273.25 370h34.17v1h-34.17zM341.50 256h34.17v2h-34.17zM375.62 69h34.17v2h-34.17zM375.62 140h34.17v1h-34.17zM375.62 176h34.17v1h-34.17zM375.62 244h34.17v2h-34.17zM409.75 149h34.17v1h-34.17zM443.88 127h34.17v2h-34.17z"/><path fill="#e5e5ff" d="M102.62 431h34.17v1h-34.17zM136.75 355h34.17v1h-34.17zM239.12 277h34.17v3h-34.17zM239.12 361h34.17v1h-34.17zM273.25 205h34.17v2h-34.17zM307.38 120h34.17v1h-34.17zM409.75 444h34.17v2h-34.17zM443.88 447h34.17v1h-34.17z"/><path fill="#b6b6ff" d="M102.62 439h34.17v2h-34.17zM136.75 408h34.17v2h-34.17zM205.00 76h34.17v1h-34.17zM205.00 342h34.17v2h-34.17zM239.12 445h34.17v2h-34.17zM273.25 132h34.17v2h-34.17zM341.50 247h34.17v1h-34.17zM375.62 259h34.17v3h-34.17zM409.75 97h34.17v1h-34.17zM409.75 129h34.17v2h-34.17zM409.75 349h34.17v2h-34.17zM443.88 134h34.17v3h-34.17z"/><path fill="#9393ff" d="M102.62 451h34.17v3h-34.17zM205.00 67h34.17v2h-34.17zM239.12 375h34.17v1h-34.17zM273.25 82h34.17v3h-34.17zM341.50 94h34.17v1h-34.17zM375.62 125h34.17v1h-34.17zM409.75 238h34.17v2h-34.17zM409.75 247h34.17v2h-34.17zM443.88 142h34.17v1h-34.17zM443.88 266h34.17v1h-34.17z"/><path fill="#7373ff" d="M102.62 454h34.17v1h-34.17zM443.88 304h34.17v1h-34.17zM443.88 353h34.17v1h-34.17z"/><path fill="#a0a0ff" d="M102.62 456h34.17v2h-34.17zM170.88 429h34.17v2h-34.17zM170.88 443h34.17v2h-34.17zM205.00 415h34.17v2h-34.17zM205.00 438h34.17v1h-34.17zM239.12 441h34.17v2h-34.17zM273.25 111h34.17v1h-34.17zM273.25 150h34.17v3h-34.17zM341.50 248h34.17v2h-34.17zM375.62 138h34.17v2h-34.17zM375.62 186h34.17v1h-34.17zM375.62 331h34.17v1h-34.17zM409.75 125h34.17v3h-34.17zM409.75 193h34.17v1h-34.17zM443.88 149h34.17v2h-34.17zM443.88 239h34.17v2h-34.17z"/><path fill="#9c9cff" d="M102.62 460h34.17v3h-34.17zM205.00 80h34.17v1h-34.17zM239.12 430h34.17v1h-34.17zM307.38 329h34.17v1h-34.17zM341.50 251h34.17v2h-34.17zM409.75 277h34.17v2h-34.17zM409.75 354h34.17v1h-34.17zM443.88 101h34.17v2h-34.17z"/><path fill="#ccccff" d="M102.62 465h34.17v1h-34.17zM136.75 387h34.17v1h-34.17zM136.75 456h34.17v1h-34.17zM170.88 424h34.17v1h-34.17zM239.12 82h34.17v3h-34.17zM239.12 468h34.17v3h-34.17zM273.25 116h34.17v1h-34.17zM307.38 478h34.17v3h-34.17zM341.50 329h34.17v1h-34.17zM409.75 160h34.17v1h-34.17z"/><path fill="#f2f2ff" d="M102.62 466h34.17v1h-34.17zM273.25 196h34.17v1h-34.17zM341.50 88h34.17v1h-34.17zM375.62 357h34.17v2h-34.17zM409.75 111h34.17v1h-34.17z"/><path fill="#d8d8ff" d="M102.62 468h34.17v3h-34.17zM136.75 346h34.17v2h-34.17zM239.12 205h34.17v1h-34.17zM307.38 207h34.17v3h-34.17zM341.50 375h34.17v1h-34.17z"/><path fill="#ffffff" d="M102.62 472h34.17v3h-34.17zM136.75 271h34.17v2h-34.17zM170.88 356h34.17v3h-34.17zM239.12 74h34.17v1h-34.17zM239.12 86h34.17v3h-34.17z"/><path fill="#ff7979" d="M136.75 68h34.17v1h-34.17zM307.38 348h34.17v1h-34.17zM307.38 357h34.17v3h-34.17z"/><path fill="#ff8080" d="M136.75 69h34.17v2h-34.17zM205.00 204h34.17v4h-34.17z"/><path fill="#ff9090" d="M136.75 74h34.17v2h-34.17zM136.75 126h34.17v1h-34.17zM136.75 148h34.17v3h-34.17zM136.75 182h34.17v1h-34.17zM170.88 319h34.17v1h-34.17zM205.00 141h34.17v2h-34.17zM205.00 160h34.17v1h-34.17zM205.00 238h34.17v3h-34.17zM205.00 262h34.17v1h-34.17zM239.12 223h34.17v2h-34.17zM375.62 82h34.17v2h-34.17zM375.62 453h34.17v3h-34.17zM409.75 368h34.17v3h-34.17z"/><path fill="#ffb7b7" d="M136.75 78h34.17v2h-34.17zM136.75 252h34.17v2h-34.17zM136.75 329h34.17v1h-34.17zM170.88 177h34.17v2h-34.17zM170.88 212h34.17v4h-34.17zM170.88 336h34.17v2h-34.17zM239.12 130h34.17v2h-34.17zM239.12 158h34.17v3h-34.17zM341.50 413h34.17v2h-34.17zM375.62 383h34.17v2h-34.17zM375.62 386h34.17v1h-34.17zM409.75 427h34.17v2h-34.17zM409.75 450h34.17v3h-34.17z"/><path fill="#fff5f5" d="M136.75 86h34.17v2h-34.17zM170.88 359h34.17v2h-34.17zM273.25 479h34.17v2h-34.17zM307.38 240h34.17v1h-34.17z"/><path fill="#fdfdff" d="M136.75 89h34.17v2h-34.17zM205.00 315h34.17v1h-34.17zM307.38 198h34.17v3h-34.17z"/><path fill="#ff7878" d="M136.75 101h34.17v2h-34.17z"/><path fill="#ff7474" d="M136.75 103h34.17v2h-34.17zM205.00 258h34.17v3h-34.17z"/><path fill="#ff7d7d" d="M136.75 109h34.17v1h-34.17z"/><path fill="#ffe8e8" d="M136.75 114h34.17v2h-34.17zM136.75 361h34.17v1h-34.17zM136.75 476h34.17v2h-34.17zM170.88 80h34.17v2h-34.17zM205.00 133h34.17v2h-34.17zM239.12 452h34.17v2h-34.17zM273.25 200h34.17v1h-34.17zM307.38 272h34.17v1h-34.17zM375.62 196h34.17v2h-34.17zM409.75 381h34.17v1h-34.17zM443.88 75h34.17v3h-34.17zM443.88 482h34.17v2h-34.17z"/><path fill="#d1d1ff" d="M136.75 201h34.17v2h-34.17zM170.88 449h34.17v2h-34.17zM205.00 471h34.17v1h-34.17zM307.38 104h34.17v2h-34.17zM307.38 142h34.17v1h-34.17zM307.38 473h34.17v3h-34.17zM375.62 91h34.17v2h-34.17zM375.62 237h34.17v2h-34.17z"/><path fill="#dedeff" d="M136.75 204h34.17v1h-34.17zM239.12 359h34.17v2h-34.17zM239.12 466h34.17v2h-34.17zM307.38 224h34.17v2h-34.17zM307.38 242h34.17v1h-34.17zM307.38 338h34.17v2h-34.17zM409.75 481h34.17v1h-34.17zM443.88 346h34.17v2h-34.17z"/><path fill="#dbdbff" d="M136.75 205h34.17v1h-34.17zM170.88 86h34.17v1h-34.17zM170.88 348h34.17v3h-34.17zM239.12 199h34.17v1h-34.17zM239.12 345h34.17v3h-34.17zM307.38 234h34.17v1h-34.17zM375.62 311h34.17v1h-34.17zM375.62 339h34.17v1h-34.17zM375.62 373h34.17v2h-34.17zM443.88 98h34.17v3h-34.17z"/><path fill="#ffe9e9" d="M136.75 216h34.17v2h-34.17zM136.75 478h34.17v1h-34.17zM170.88 279h34.17v1h-34.17zM205.00 139h34.17v2h-34.17zM273.25 270h34.17v1h-34.17zM375.62 480h34.17v1h-34.17z"/><path fill="#ffcbcb" d="M136.75 269h34.17v1h-34.17zM170.88 78h34.17v1h-34.17zM170.88 242h34.17v1h-34.17zM205.00 190h34.17v2h-34.17zM239.12 117h34.17v2h-34.17zM341.50 385h34.17v2h-34.17z"/><path fill="#e6e6ff" d="M136.75 273h34.17v3h-34.17zM136.75 364h34.17v2h-34.17zM170.88 446h34.17v1h-34.17zM205.00 311h34.17v1h-34.17zM273.25 255h34.17v1h-34.17zM273.25 336h34.17v2h-34.17zM341.50 344h34.17v2h-34.17zM375.62 276h34.17v3h-34.17z"/><path fill="#ff7b7b" d="M136.75 276h34.17v1h-34.17zM239.12 338h34.17v2h-34.17z"/><path fill="#ff8282" d="M136.75 280h34.17v1h-34.17zM307.38 360h34.17v1h-34.17z"/><path fill="#ff8989" d="M136.75 319h34.17v2h-34.17zM170.88 68h34.17v1h-34.17zM205.00 202h34.17v2h-34.17zM273.25 346h34.17v2h-34.17zM307.38 445h34.17v1h-34.17z"/><path fill="#d7d7ff" d="M136.75 352h34.17v3h-34.17zM205.00 432h34.17v2h-34.17zM273.25 259h34.17v2h-34.17zM273.25 338h34.17v1h-34.17zM307.38 201h34.17v1h-34.17zM307.38 471h34.17v2h-34.17zM375.62 95h34.17v1h-34.17zM375.62 183h34.17v2h-34.17zM443.88 106h34.17v1h-34.17zM443.88 114h34.17v2h-34.17z"/><path fill="#ffcfcf" d="M136.75 360h34.17v1h-34.17zM205.00 120h34.17v1h-34.17zM205.00 198h34.17v3h-34.17zM205.00 272h34.17v2h-34.17zM239.12 195h34.17v1h-34.17zM375.62 411h34.17v1h-34.17z"/><path fill="#fff2f2" d="M136.75 384h34.17v2h-34.17zM205.00 301h34.17v2h-34.17zM307.38 196h34.17v2h-34.17zM341.50 82h34.17v1h-34.17zM341.50 351h34.17v2h-34.17zM375.62 476h34.17v1h-34.17zM443.88 442h34.17v3h-34.17zM443.88 449h34.17v1h-34.17z"/><path fill="#c1c1ff" d="M136.75 386h34.17v1h-34.17zM205.00 397h34.17v1h-34.17zM273.25 256h34.17v1h-34.17zM273.25 471h34.17v1h-34.17zM307.38 183h34.17v1h-34.17zM307.38 188h34.17v2h-34.17zM307.38 195h34.17v1h-34.17zM341.50 101h34.17v3h-34.17zM341.50 148h34.17v2h-34.17zM375.62 66h34.17v2h-34.17zM375.62 109h34.17v2h-34.17zM375.62 220h34.17v3h-34.17z"/><path fill="#ababff" d="M136.75 388h34.17v1h-34.17zM170.88 441h34.17v2h-34.17zM239.12 406h34.17v3h-34.17zM273.25 226h34.17v1h-34.17zM307.38 79h34.17v3h-34.17zM341.50 126h34.17v1h-34.17zM375.62 228h34.17v1h-34.17zM409.75 307h34.17v2h-34.17zM443.88 119h34.17v1h-34.17zM443.88 133h34.17v1h-34.17z"/><path fill="#9999ff" d="M136.75 394h34.17v1h-34.17zM136.75 429h34.17v3h-34.17zM205.00 419h34.17v2h-34.17zM239.12 417h34.17v1h-34.17zM341.50 358h34.17v2h-34.17zM375.62 248h34.17v1h-34.17zM409.75 232h34.17v2h-34.17zM409.75 339h34.17v2h-34.17zM443.88 183h34.17v1h-34.17z"/><path fill="#dcdcff" d="M136.75 411h34.17v1h-34.17zM273.25 185h34.17v2h-34.17zM273.25 291h34.17v1h-34.17zM273.25 366h34.17v1h-34.17zM341.50 66h34.17v2h-34.17zM375.62 340h34.17v2h-34.17z"/><path fill="#9191ff" d="M136.75 451h34.17v1h-34.17zM136.75 462h34.17v2h-34.17zM205.00 66h34.17v1h-34.17zM239.12 478h34.17v3h-34.17zM409.75 223h34.17v3h-34.17zM443.88 187h34.17v1h-34.17zM443.88 197h34.17v1h-34.17zM443.88 272h34.17v2h-34.17z"/><path fill="#9797ff" d="M136.75 454h34.17v2h-34.17zM205.00 394h34.17v2h-34.17zM239.12 471h34.17v1h-34.17zM273.25 129h34.17v1h-34.17zM307.38 257h34.17v2h-34.17zM375.62 205h34.17v1h-34.17zM409.75 242h34.17v2h-34.17zM409.75 322h34.17v3h-34.17zM443.88 206h34.17v1h-34.17z"/><path fill="#bdbdff" d="M136.75 464h34.17v2h-34.17zM205.00 439h34.17v2h-34.17zM239.12 400h34.17v1h-34.17zM273.25 163h34.17v1h-34.17zM273.25 227h34.17v2h-34.17zM307.38 260h34.17v1h-34.17zM307.38 325h34.17v1h-34.17zM341.50 92h34.17v1h-34.17zM341.50 95h34.17v1h-34.17zM341.50 150h34.17v2h-34.17zM341.50 202h34.17v2h-34.17zM409.75 138h34.17v3h-34.17zM409.75 155h34.17v1h-34.17zM443.88 117h34.17v2h-34.17zM443.88 277h34.17v2h-34.17z"/><path fill="#ddddff" d="M136.75 482h34.17v2h-34.17zM170.88 479h34.17v1h-34.17zM239.12 197h34.17v2h-34.17zM307.38 206h34.17v1h-34.17zM341.50 230h34.17v2h-34.17zM375.62 180h34.17v1h-34.17zM375.62 325h34.17v1h-34.17zM443.88 336h34.17v1h-34.17z"/><path fill="#fffefe" d="M170.88 111h34.17v2h-34.17zM170.88 343h34.17v1h-34.17zM307.38 87h34.17v2h-34.17zM443.88 480h34.17v1h-34.17z"/><path fill="#ff8b8b" d="M170.88 126h34.17v2h-34.17zM170.88 317h34.17v2h-34.17zM307.38 441h34.17v4h-34.17zM375.62 81h34.17v1h-34.17zM409.75 416h34.17v1h-34.17zM409.75 479h34.17v1h-34.17z"/><path fill="#fffbfb" d="M170.88 202h34.17v1h-34.17zM170.88 258h34.17v1h-34.17zM170.88 315h34.17v1h-34.17zM273.25 267h34.17v3h-34.17zM273.25 289h34.17v1h-34.17zM375.62 181h34.17v2h-34.17zM375.62 371h34.17v2h-34.17z"/><path fill="#ffcaca" d="M170.88 231h34.17v1h-34.17zM205.00 227h34.17v2h-34.17zM205.00 271h34.17v1h-34.17zM205.00 478h34.17v3h-34.17zM239.12 174h34.17v1h-34.17zM239.12 230h34.17v3h-34.17z"/><path fill="#ffdcdc" d="M170.88 260h34.17v1h-34.17zM170.88 271h34.17v2h-34.17zM239.12 254h34.17v1h-34.17zM239.12 271h34.17v1h-34.17zM273.25 92h34.17v2h-34.17zM307.38 94h34.17v2h-34.17zM443.88 448h34.17v1h-34.17z"/><path fill="#ffdbdb" d="M170.88 306h34.17v2h-34.17zM205.00 132h34.17v1h-34.17zM239.12 296h34.17v1h-34.17zM273.25 300h34.17v1h-34.17zM273.25 458h34.17v1h-34.17zM409.75 362h34.17v1h-34.17z"/><path fill="#fffafa" d="M170.88 313h34.17v2h-34.17zM205.00 102h34.17v2h-34.17zM273.25 91h34.17v1h-34.17zM341.50 81h34.17v1h-34.17zM341.50 85h34.17v1h-34.17zM443.88 441h34.17v1h-34.17z"/><path fill="#ffefef" d="M170.88 345h34.17v1h-34.17zM239.12 94h34.17v2h-34.17zM307.38 296h34.17v2h-34.17zM375.62 72h34.17v1h-34.17z"/><path fill="#fbfbff" d="M170.88 353h34.17v3h-34.17zM205.00 104h34.17v1h-34.17zM205.00 360h34.17v1h-34.17zM239.12 256h34.17v1h-34.17zM239.12 302h34.17v3h-34.17zM307.38 286h34.17v2h-34.17zM341.50 86h34.17v2h-34.17zM409.75 441h34.17v1h-34.17z"/><path fill="#ffeeee" d="M170.88 361h34.17v1h-34.17z"/><path fill="#ebebff" d="M170.88 372h34.17v1h-34.17zM307.38 132h34.17v3h-34.17zM307.38 292h34.17v2h-34.17zM341.50 316h34.17v1h-34.17zM409.75 68h34.17v2h-34.17z"/><path fill="#e7e7ff" d="M170.88 373h34.17v1h-34.17zM170.88 477h34.17v2h-34.17zM239.12 89h34.17v3h-34.17zM239.12 357h34.17v2h-34.17zM239.12 390h34.17v1h-34.17zM273.25 286h34.17v3h-34.17zM307.38 231h34.17v3h-34.17zM341.50 339h34.17v3h-34.17zM375.62 308h34.17v2h-34.17zM443.88 67h34.17v1h-34.17z"/><path fill="#dfdfff" d="M170.88 374h34.17v2h-34.17zM239.12 362h34.17v2h-34.17zM307.38 216h34.17v1h-34.17zM307.38 218h34.17v2h-34.17zM375.62 329h34.17v1h-34.17zM443.88 68h34.17v1h-34.17z"/><path fill="#babaff" d="M170.88 376h34.17v1h-34.17zM170.88 481h34.17v1h-34.17zM273.25 134h34.17v2h-34.17zM273.25 244h34.17v2h-34.17zM273.25 261h34.17v3h-34.17zM273.25 273h34.17v1h-34.17zM307.38 215h34.17v1h-34.17zM341.50 89h34.17v2h-34.17zM409.75 103h34.17v3h-34.17zM409.75 150h34.17v3h-34.17zM443.88 175h34.17v1h-34.17zM443.88 225h34.17v3h-34.17zM443.88 373h34.17v1h-34.17z"/><path fill="#9a9aff" d="M170.88 379h34.17v2h-34.17zM205.00 403h34.17v2h-34.17zM239.12 435h34.17v1h-34.17zM273.25 85h34.17v1h-34.17zM307.38 78h34.17v1h-34.17z"/><path fill="#9e9eff" d="M170.88 422h34.17v1h-34.17zM239.12 396h34.17v2h-34.17zM273.25 145h34.17v3h-34.17zM307.38 101h34.17v1h-34.17zM307.38 115h34.17v1h-34.17zM341.50 221h34.17v2h-34.17zM375.62 189h34.17v3h-34.17zM375.62 206h34.17v3h-34.17zM375.62 267h34.17v3h-34.17zM409.75 163h34.17v1h-34.17zM443.88 88h34.17v2h-34.17zM443.88 141h34.17v1h-34.17zM443.88 274h34.17v2h-34.17z"/><path fill="#f1f1ff" d="M170.88 451h34.17v2h-34.17zM273.25 224h34.17v2h-34.17zM307.38 220h34.17v2h-34.17zM375.62 316h34.17v3h-34.17zM375.62 375h34.17v1h-34.17zM409.75 380h34.17v1h-34.17zM443.88 316h34.17v1h-34.17z"/><path fill="#8080ff" d="M205.00 69h34.17v2h-34.17zM307.38 327h34.17v2h-34.17zM409.75 320h34.17v2h-34.17zM443.88 247h34.17v2h-34.17z"/><path fill="#8d8dff" d="M205.00 71h34.17v1h-34.17zM239.12 393h34.17v3h-34.17zM409.75 200h34.17v1h-34.17zM409.75 276h34.17v1h-34.17zM409.75 317h34.17v1h-34.17zM443.88 237h34.17v1h-34.17zM443.88 256h34.17v2h-34.17zM443.88 292h34.17v3h-34.17zM443.88 354h34.17v1h-34.17z"/><path fill="#9090ff" d="M205.00 75h34.17v1h-34.17zM205.00 447h34.17v3h-34.17zM273.25 174h34.17v2h-34.17zM273.25 264h34.17v2h-34.17zM307.38 317h34.17v2h-34.17zM375.62 266h34.17v1h-34.17zM409.75 86h34.17v3h-34.17z"/><path fill="#ffd2d2" d="M205.00 86h34.17v2h-34.17zM205.00 131h34.17v1h-34.17zM307.38 281h34.17v1h-34.17zM307.38 451h34.17v1h-34.17zM341.50 410h34.17v3h-34.17zM443.88 376h34.17v1h-34.17zM443.88 440h34.17v1h-34.17z"/><path fill="#f7f7ff" d="M205.00 109h34.17v2h-34.17zM205.00 371h34.17v1h-34.17zM307.38 290h34.17v1h-34.17z"/><path fill="#ffeaea" d="M205.00 122h34.17v1h-34.17zM307.38 462h34.17v2h-34.17z"/><path fill="#ff7e7e" d="M205.00 210h34.17v1h-34.17zM443.88 367h34.17v1h-34.17z"/><path fill="#ff7676" d="M205.00 256h34.17v2h-34.17z"/><path fill="#fcfcff" d="M205.00 358h34.17v2h-34.17zM409.75 80h34.17v1h-34.17zM409.75 442h34.17v2h-34.17z"/><path fill="#8b8bff" d="M205.00 384h34.17v2h-34.17zM409.75 266h34.17v1h-34.17zM409.75 299h34.17v1h-34.17z"/><path fill="#c8c8ff" d="M205.00 417h34.17v2h-34.17zM205.00 466h34.17v2h-34.17zM273.25 182h34.17v2h-34.17zM273.25 278h34.17v1h-34.17zM307.38 211h34.17v1h-34.17zM307.38 217h34.17v1h-34.17zM375.62 169h34.17v1h-34.17zM409.75 330h34.17v1h-34.17zM443.88 123h34.17v2h-34.17z"/><path fill="#fafaff" d="M205.00 443h34.17v2h-34.17zM239.12 305h34.17v1h-34.17zM341.50 79h34.17v1h-34.17zM375.62 302h34.17v3h-34.17zM375.62 364h34.17v2h-34.17zM375.62 376h34.17v1h-34.17zM443.88 361h34.17v1h-34.17z"/><path fill="#8383ff" d="M205.00 446h34.17v1h-34.17zM409.75 335h34.17v2h-34.17zM409.75 358h34.17v3h-34.17z"/><path fill="#8787ff" d="M205.00 450h34.17v1h-34.17zM307.38 319h34.17v2h-34.17zM375.62 103h34.17v2h-34.17zM409.75 183h34.17v3h-34.17zM409.75 240h34.17v2h-34.17zM409.75 300h34.17v1h-34.17zM409.75 357h34.17v1h-34.17z"/><path fill="#7e7eff" d="M205.00 451h34.17v1h-34.17zM375.62 254h34.17v2h-34.17zM409.75 145h34.17v1h-34.17zM443.88 287h34.17v2h-34.17z"/><path fill="#8e8eff" d="M205.00 453h34.17v1h-34.17zM239.12 383h34.17v1h-34.17zM273.25 171h34.17v1h-34.17zM409.75 226h34.17v2h-34.17zM409.75 306h34.17v1h-34.17zM443.88 284h34.17v3h-34.17z"/><path fill="#7d7dff" d="M205.00 454h34.17v2h-34.17zM443.88 238h34.17v1h-34.17z"/><path fill="#8888ff" d="M239.12 69h34.17v2h-34.17zM239.12 378h34.17v2h-34.17zM239.12 425h34.17v1h-34.17zM273.25 194h34.17v2h-34.17zM341.50 360h34.17v1h-34.17z"/><path fill="#e4e4ff" d="M239.12 76h34.17v2h-34.17zM341.50 80h34.17v1h-34.17zM375.62 128h34.17v2h-34.17zM375.62 351h34.17v1h-34.17z"/><path fill="#ff7c7c" d="M239.12 331h34.17v1h-34.17z"/><path fill="#ff8787" d="M239.12 332h34.17v3h-34.17zM307.38 341h34.17v1h-34.17zM307.38 346h34.17v2h-34.17zM307.38 379h34.17v1h-34.17z"/><path fill="#8c8cff" d="M239.12 373h34.17v2h-34.17zM239.12 474h34.17v2h-34.17zM273.25 172h34.17v2h-34.17zM307.38 254h34.17v1h-34.17zM341.50 281h34.17v4h-34.17zM341.50 287h34.17v1h-34.17zM409.75 89h34.17v1h-34.17zM409.75 279h34.17v2h-34.17zM443.88 311h34.17v1h-34.17z"/><path fill="#6b6bff" d="M239.12 380h34.17v3h-34.17z"/><path fill="#9b9bff" d="M239.12 391h34.17v1h-34.17zM239.12 409h34.17v3h-34.17zM273.25 120h34.17v1h-34.17zM307.38 71h34.17v3h-34.17zM307.38 316h34.17v1h-34.17zM307.38 367h34.17v2h-34.17zM341.50 254h34.17v1h-34.17zM375.62 239h34.17v2h-34.17zM375.62 270h34.17v2h-34.17zM409.75 209h34.17v1h-34.17zM409.75 269h34.17v1h-34.17zM409.75 291h34.17v1h-34.17z"/><path fill="#7777ff" d="M239.12 431h34.17v2h-34.17zM341.50 250h34.17v1h-34.17zM409.75 141h34.17v2h-34.17zM443.88 258h34.17v3h-34.17z"/><path fill="#8a8aff" d="M239.12 433h34.17v2h-34.17zM273.25 316h34.17v1h-34.17zM409.75 196h34.17v1h-34.17zM409.75 221h34.17v1h-34.17zM409.75 337h34.17v2h-34.17z"/><path fill="#9494ff" d="M239.12 472h34.17v2h-34.17zM273.25 320h34.17v3h-34.17zM307.38 82h34.17v1h-34.17zM341.50 152h34.17v3h-34.17zM341.50 288h34.17v1h-34.17zM409.75 234h34.17v1h-34.17zM409.75 281h34.17v1h-34.17zM409.75 290h34.17v1h-34.17zM409.75 309h34.17v2h-34.17zM443.88 269h34.17v3h-34.17z"/><path fill="#7f7fff" d="M239.12 476h34.17v2h-34.17zM273.25 81h34.17v1h-34.17zM273.25 323h34.17v3h-34.17zM409.75 210h34.17v1h-34.17zM409.75 228h34.17v1h-34.17zM443.88 281h34.17v1h-34.17z"/><path fill="#6565ff" d="M273.25 76h34.17v2h-34.17z"/><path fill="#6666ff" d="M273.25 78h34.17v2h-34.17z"/><path fill="#8585ff" d="M273.25 80h34.17v1h-34.17zM341.50 161h34.17v3h-34.17zM409.75 229h34.17v3h-34.17zM443.88 90h34.17v1h-34.17z"/><path fill="#8989ff" d="M273.25 101h34.17v2h-34.17zM409.75 270h34.17v3h-34.17z"/><path fill="#8181ff" d="M273.25 126h34.17v3h-34.17zM307.38 77h34.17v1h-34.17zM307.38 85h34.17v1h-34.17zM409.75 249h34.17v1h-34.17zM443.88 86h34.17v2h-34.17zM443.88 289h34.17v3h-34.17zM443.88 296h34.17v1h-34.17z"/><path fill="#e2e2ff" d="M273.25 266h34.17v1h-34.17zM307.38 122h34.17v1h-34.17zM341.50 69h34.17v2h-34.17zM341.50 111h34.17v3h-34.17zM409.75 257h34.17v2h-34.17z"/><path fill="#8686ff" d="M273.25 317h34.17v3h-34.17zM409.75 143h34.17v2h-34.17zM409.75 296h34.17v3h-34.17zM409.75 316h34.17v1h-34.17z"/><path fill="#5c5cff" d="M273.25 326h34.17v1h-34.17z"/><path fill="#7272ff" d="M273.25 327h34.17v3h-34.17zM443.88 297h34.17v2h-34.17z"/><path fill="#5757ff" d="M273.25 330h34.17v1h-34.17z"/><path fill="#f3f3ff" d="M307.38 98h34.17v1h-34.17zM375.62 323h34.17v2h-34.17z"/><path fill="#8282ff" d="M307.38 326h34.17v1h-34.17zM341.50 292h34.17v3h-34.17zM375.62 251h34.17v3h-34.17zM409.75 356h34.17v1h-34.17zM443.88 313h34.17v2h-34.17z"/><path fill="#7c7cff" d="M307.38 330h34.17v1h-34.17zM409.75 282h34.17v2h-34.17zM443.88 305h34.17v1h-34.17z"/><path fill="#ff7777" d="M307.38 377h34.17v2h-34.17z"/><path fill="#a3a3ff" d="M341.50 117h34.17v2h-34.17zM341.50 289h34.17v3h-34.17zM341.50 331h34.17v2h-34.17zM375.62 241h34.17v1h-34.17zM409.75 146h34.17v1h-34.17zM409.75 189h34.17v2h-34.17zM409.75 212h34.17v3h-34.17zM409.75 274h34.17v2h-34.17zM443.88 146h34.17v1h-34.17zM443.88 167h34.17v1h-34.17z"/><path fill="#7979ff" d="M341.50 285h34.17v2h-34.17zM443.88 143h34.17v3h-34.17z"/><path fill="#6a6aff" d="M341.50 297h34.17v2h-34.17z"/><path fill="#8f8fff" d="M409.75 90h34.17v1h-34.17zM409.75 244h34.17v2h-34.17zM409.75 332h34.17v1h-34.17zM443.88 236h34.17v1h-34.17zM443.88 249h34.17v1h-34.17zM443.88 267h34.17v2h-34.17zM443.88 312h34.17v1h-34.17z"/><path fill="#7171ff" d="M409.75 267h34.17v1h-34.17z"/><path fill="#6d6dff" d="M409.75 273h34.17v1h-34.17zM409.75 311h34.17v1h-34.17z"/><path fill="#7b7bff" d="M409.75 284h34.17v1h-34.17z"/><path fill="#6161ff" d="M409.75 301h34.17v1h-34.17zM409.75 314h34.17v2h-34.17z"/><path fill="#5656ff" d="M409.75 302h34.17v3h-34.17z"/><path fill="#6969ff" d="M409.75 305h34.17v1h-34.17z"/><path fill="#6363ff" d="M409.75 312h34.17v2h-34.17z"/><path fill="#7575ff" d="M409.75 333h34.17v2h-34.17z"/><path fill="#7a7aff" d="M443.88 186h34.17v1h-34.17zM443.88 358h34.17v1h-34.17z"/><path fill="#6e6eff" d="M443.88 188h34.17v1h-34.17z"/><path fill="#5454ff" d="M443.88 299h34.17v1h-34.17z"/><path fill="#7878ff" d="M443.88 300h34.17v1h-34.17z"/><path fill="#4d4dff" d="M443.88 306h34.17v1h-34.17z"/><path fill="#5858ff" d="M443.88 307h34.17v1h-34.17z"/><path fill="#7676ff" d="M443.88 308h34.17v1h-34.17z"/><path fill="#6767ff" d="M443.88 309h34.17v2h-34.17z"/><path fill="#7070ff" d="M443.88 356h34.17v2h-34.17z"/><path fill="#6464ff" d="M443.88 359h34.17v2h-34.17z"/></g><path d="M187.2 35.0L187.2 6.7L358.5 6.7L358.5 31.0M136.3 46.3L136.3 35.0L238.4 35.0L238.4 42.3M102.0 55.1L102.0 46.3L170.5 46.3L170.5 49.7M85.6 66.0L85.6 55.1L119.7 55.1L119.7 66.0M153.8 66.0L153.8 49.7L187.9 49.7L187.9 66.0M222.0 66.0L222.0 42.3L256.2 42.3L256.2 66.0M307.3 49.4L307.3 31.0L409.5 31.0L409.5 43.8M290.3 66.0L290.3 49.4L324.4 49.4L324.4 66.0M375.6 55.5L375.6 43.8L443.9 43.8L443.9 51.7M358.6 66.0L358.6 55.5L392.7 55.5L392.7 66.0M426.8 66.0L426.8 51.7L460.9 51.7L460.9 66.0" fill="none" stroke="#3a3a3a" stroke-width="1.3"/><rect x="48.0" y="117.0" width="12.0" height="23.0" fill="#aaa"/><rect x="52.0" y="140.0" width="8.0" height="25.0" fill="#aaa"/><rect x="50.0" y="165.0" width="10.0" height="31.0" fill="#aaa"/><rect x="46.0" y="206.0" width="14.0" height="40.0" fill="#aaa"/><rect x="44.0" y="420.0" width="8.0" height="20.0" fill="#aaa"/><polygon points="68.3,66.0 40.0,66.0 40.0,67.5 32.0,67.5 32.0,82.0 26.0,82.0 26.0,95.0 34.0,95.0 34.0,100.0 52.0,100.0 52.0,105.0 24.0,105.0 24.0,111.0 30.0,111.0 30.0,113.0 40.0,113.0 40.0,117.0 48.0,117.0 60.0,120.8 48.0,120.8 60.0,124.7 48.0,124.7 60.0,128.5 48.0,128.5 60.0,132.3 48.0,132.3 60.0,136.2 48.0,136.2 60.0,140.0 52.0,140.0 60.0,145.0 52.0,145.0 60.0,150.0 52.0,150.0 60.0,155.0 52.0,155.0 60.0,160.0 52.0,160.0 60.0,165.0 50.0,165.0 60.0,171.2 50.0,171.2 60.0,177.4 50.0,177.4 60.0,183.6 50.0,183.6 60.0,189.8 50.0,189.8 60.0,196.0 36.0,196.0 36.0,200.0 18.0,200.0 18.0,202.4 40.0,202.4 40.0,206.0 46.0,206.0 60.0,211.0 46.0,211.0 60.0,216.0 46.0,216.0 60.0,221.0 46.0,221.0 60.0,226.0 46.0,226.0 60.0,231.0 46.0,231.0 60.0,236.0 46.0,236.0 60.0,241.0 46.0,241.0 60.0,246.0 42.0,246.0 42.0,258.0 46.0,258.0 46.0,270.0 30.0,270.0 30.0,277.0 30.0,277.0 58.0,296.0 58.0,298.5 35.0,298.5 35.0,305.0 40.0,305.0 40.0,309.0 24.0,309.0 24.0,314.5 40.0,314.5 40.0,320.0 50.0,320.0 50.0,328.0 52.0,328.0 52.0,336.5 30.0,336.5 30.0,340.5 21.0,340.5 21.0,344.5 24.0,344.5 24.0,352.4 30.0,352.4 30.0,360.3 20.0,360.3 20.0,366.0 30.0,366.0 30.0,375.0 23.0,375.0 23.0,379.0 26.0,379.0 37.0,383.0 44.0,387.0 50.0,391.0 54.0,396.0 58.0,402.0 60.0,407.0 60.0,414.0 56.0,416.0 59.0,420.0 44.0,420.0 52.0,425.0 44.0,425.0 52.0,430.0 44.0,430.0 52.0,435.0 44.0,435.0 52.0,440.0 38.0,440.0 38.0,444.0 42.0,444.0 42.0,458.6 56.0,458.6 56.0,465.0 30.0,465.0 30.0,473.0 22.0,473.0 22.0,485.0 68.3,484.5" fill="#000"/><path d="M22.3 66.6H40.5M14.0 68.1H32.5M17.3 69.4H32.5M13.5 70.7H32.5M16.6 72.0H32.5M15.4 73.3H32.5M13.4 74.6H32.5M16.4 75.9H32.5M13.2 77.2H32.5M15.9 78.5H32.5M13.5 79.8H32.5M13.6 81.1H32.5M14.9 82.6H26.5M16.8 83.9H26.5M13.6 85.2H26.5M14.0 86.5H26.5M15.9 87.8H26.5M17.3 89.1H26.5M15.6 90.4H26.5M14.8 91.7H26.5M17.4 93.0H26.5M13.2 94.3H26.5M27.0 95.6H34.5M25.0 96.9H34.5M24.5 98.2H34.5M24.4 99.5H34.5M34.2 100.6H52.5M37.7 101.9H52.5M33.3 103.2H52.5M36.1 104.5H52.5M13.7 111.6H30.5M11.7 112.9H30.5M10.7 200.6H18.5M9.2 201.9H18.5M36.1 246.6H42.5M36.4 247.9H42.5M37.4 249.2H42.5M36.9 250.5H42.5M36.7 251.8H42.5M37.2 253.1H42.5M37.0 254.4H42.5M36.6 255.7H42.5M37.7 257.0H42.5M38.4 258.6H46.5M36.9 259.9H46.5M38.0 261.2H46.5M37.8 262.5H46.5M39.1 263.8H46.5M38.6 265.1H46.5M37.0 266.4H46.5M39.4 267.7H46.5M36.4 269.0H46.5M38.9 320.6H50.5M40.4 321.9H50.5M37.7 323.2H50.5M39.2 324.5H50.5M37.2 325.8H50.5M40.0 327.1H50.5M37.4 328.6H52.5M36.0 329.9H52.5M38.1 331.2H52.5M34.2 332.5H52.5M36.9 333.8H52.5M36.2 335.1H52.5M36.1 336.4H52.5M21.6 337.1H30.5M22.9 338.4H30.5M23.3 339.7H30.5M16.5 345.1H24.5M17.1 346.4H24.5M15.2 347.7H24.5M17.2 349.0H24.5M17.0 350.3H24.5M18.1 351.6H24.5M21.5 353.0H30.5M19.2 354.3H30.5M19.6 355.6H30.5M20.8 356.9H30.5M18.1 358.2H30.5M19.9 359.5H30.5M18.7 366.6H30.5M18.5 367.9H30.5M18.2 369.2H30.5M21.2 370.5H30.5M18.5 371.8H30.5M19.0 373.1H30.5M19.6 374.4H30.5M34.4 444.6H42.5M31.3 445.9H42.5M32.7 447.2H42.5M33.1 448.5H42.5M34.4 449.8H42.5M34.2 451.1H42.5M34.3 452.4H42.5M32.1 453.7H42.5M32.6 455.0H42.5M32.4 456.3H42.5M34.4 457.6H42.5M41.4 459.2H56.5M35.2 460.5H56.5M35.4 461.8H56.5M35.8 463.1H56.5M35.8 464.4H56.5M25.0 465.6H30.5M25.2 466.9H30.5M24.6 468.2H30.5M24.0 469.5H30.5M24.9 470.8H30.5M24.8 472.1H30.5M13.2 473.6H22.5M14.7 474.9H22.5M13.7 476.2H22.5M13.0 477.5H22.5M13.4 478.8H22.5M13.6 480.1H22.5M11.2 481.4H22.5M14.5 482.7H22.5M14.0 484.0H22.5" fill="none" stroke="#333" stroke-width="0.9"/><path d="M9.0 73.8V479.0M9.0 73.8H32.0M9.0 479.0H22.0M11.5 69.3V85.0M11.5 69.3H32.0M11.5 85.0H26.0M18.0 67.5V71.0M18.0 67.5H32.0M18.0 71.0H32.0M15.5 76.0V81.0M15.5 76.0H32.0M15.5 81.0H32.0M13.0 91.0V98.0M13.0 91.0H26.0M13.0 98.0H34.0M15.5 92.0V102.0M15.5 92.0H26.0M15.5 102.0H52.0M18.0 96.5V107.5M18.0 96.5H34.0M18.0 107.5H24.0M16.0 112.5V118.5M16.0 112.5H30.0M16.0 118.5H48.0M22.0 112.5V127.0M22.0 112.5H30.0M22.0 127.0H48.0M26.4 115.0V137.6M26.4 115.0H40.0M26.4 137.6H48.0M28.4 128.0V163.0M28.4 128.0H48.0M28.4 163.0H52.0M31.7 163.0V199.0M31.7 163.0H52.0M31.7 199.0H36.0M41.6 140.0V176.0M41.6 140.0H52.0M41.6 176.0H50.0M45.6 158.0V190.5M45.6 158.0H52.0M45.6 190.5H50.0M50.0 148.0V173.0M50.0 148.0H52.0M19.8 214.0V296.0M19.8 214.0H46.0M19.8 296.0H58.0M27.0 202.5V225.0M27.0 202.5H40.0M27.0 225.0H46.0M30.4 204.5V252.0M30.4 204.5H40.0M30.4 252.0H42.0M33.0 232.5V262.0M33.0 232.5H46.0M33.0 262.0H46.0M40.0 212.0V252.0M40.0 212.0H46.0M40.0 252.0H42.0M43.6 207.0V232.0M43.6 207.0H46.0M43.6 232.0H46.0M13.0 255.0V324.0M13.0 255.0H42.0M13.0 324.0H50.0M20.5 288.0V309.0M20.5 288.0H58.0M20.5 309.0H24.0M28.0 278.0V302.0M28.0 278.0H30.0M28.0 302.0H35.0M25.0 268.5V281.7M25.0 268.5H46.0M25.0 281.7H30.0M32.0 250.0V258.0M32.0 250.0H42.0M32.0 258.0H46.0M16.0 314.5V340.0M16.0 314.5H40.0M16.0 340.0H30.0M21.0 326.0V340.5M21.0 326.0H50.0M26.0 326.0V332.6M26.0 326.0H50.0M26.0 332.6H52.0M32.0 330.0V336.5M32.0 330.0H52.0M12.0 344.5V366.0M12.0 344.5H24.0M12.0 366.0H30.0M14.5 373.0V475.0M14.5 373.0H30.0M14.5 475.0H22.0M20.0 377.0V414.5M20.0 377.0H23.0M20.0 414.5H60.0M22.0 414.5V448.6M22.0 414.5H60.0M22.0 448.6H42.0M26.2 436.0V469.0M26.2 436.0H44.0M26.2 469.0H30.0M34.0 425.0V442.0M34.0 425.0H44.0M34.0 442.0H38.0M36.0 407.0V425.0M36.0 407.0H60.0M36.0 425.0H44.0M41.6 388.0V423.0M41.6 388.0H44.0M41.6 423.0H44.0M49.0 392.0V404.0M49.0 392.0H50.0M49.0 404.0H58.0M32.0 450.5V457.5M32.0 450.5H42.0M32.0 457.5H42.0" fill="none" stroke="#111" stroke-width="1.1"/><defs><linearGradient id="cb" x1="0" y1="0" x2="0" y2="1"><stop offset="0" stop-color="#ff0000"/><stop offset="0.5" stop-color="#ffffff"/><stop offset="1" stop-color="#0000ff"/></linearGradient></defs><rect x="484.1" y="66.1" width="11.4" height="170.2" fill="url(#cb)"/><text x="505.2" y="75.8" class="t c">3</text><text x="505.2" y="102.7" class="t c">2</text><text x="505.2" y="129.6" class="t c">1</text><text x="505.2" y="156.5" class="t c">0</text><text x="505.2" y="183.4" class="t c">−1</text><text x="505.2" y="210.3" class="t c">−2</text><text x="505.2" y="237.2" class="t c">−3</text><text transform="translate(80.7,492.5) rotate(90) scale(0.86,1)" class="t">RCd5</text><text transform="translate(114.8,492.5) rotate(90) scale(0.86,1)" class="t">RCdM5</text><text transform="translate(148.9,492.5) rotate(90) scale(0.86,1)" class="t">RCdM1</text><text transform="translate(183.0,492.5) rotate(90) scale(0.86,1)" class="t">RCdM0</text><text transform="translate(217.2,492.5) rotate(90) scale(0.86,1)" class="t">RCd1</text><text transform="translate(251.3,492.5) rotate(90) scale(0.86,1)" class="t">RCd0</text><text transform="translate(285.4,492.5) rotate(90) scale(0.86,1)" class="t">LCd5</text><text transform="translate(319.5,492.5) rotate(90) scale(0.86,1)" class="t">LCdM5</text><text transform="translate(353.7,492.5) rotate(90) scale(0.86,1)" class="t">LCd1</text><text transform="translate(387.8,492.5) rotate(90) scale(0.86,1)" class="t">LCdM1</text><text transform="translate(421.9,492.5) rotate(90) scale(0.86,1)" class="t">LCd0</text><text transform="translate(456.0,492.5) rotate(90) scale(0.86,1)" class="t">LCdM0</text></svg>
</body></html>
